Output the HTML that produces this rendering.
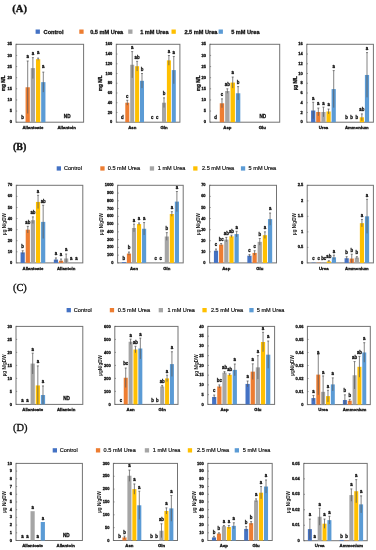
<!DOCTYPE html>
<html><head><meta charset="utf-8"><style>
html,body{margin:0;padding:0;background:#fff;width:376px;height:550px;overflow:hidden}
svg{display:block;will-change:transform}
text{font-family:"Liberation Sans",sans-serif;fill:#111}
text.b{stroke:#111;stroke-width:0.3px}
text.r{stroke:#111;stroke-width:0.2px}
text.lb{stroke:#111;stroke-width:0.28px}
text.yl{stroke:none}
text.serif{font-family:"Liberation Serif",serif;stroke:#111;stroke-width:0.35px}
</style></head><body>
<svg width="376" height="550" viewBox="0 0 376 550">
<rect width="376" height="550" fill="#fff"/>
<text class="serif" x="12.3" y="12.4" font-size="10.5" font-weight="bold">(A)</text>
<rect x="35.60" y="29.50" width="4.3" height="4.3" fill="#4472C4"/>
<text class="lb" transform="translate(43.60,33.70)" font-size="5.6" text-anchor="start" font-weight="bold">Control</text>
<rect x="79.30" y="29.50" width="4.3" height="4.3" fill="#ED7D31"/>
<text class="lb" transform="translate(90.20,33.70)" font-size="5.6" text-anchor="start" font-weight="bold">0.5 mM Urea</text>
<rect x="128.20" y="29.50" width="4.3" height="4.3" fill="#A5A5A5"/>
<text class="lb" transform="translate(140.20,33.70)" font-size="5.6" text-anchor="start" font-weight="bold">1 mM Urea</text>
<rect x="171.50" y="29.50" width="4.3" height="4.3" fill="#FFC000"/>
<text class="lb" transform="translate(184.40,33.70)" font-size="5.6" text-anchor="start" font-weight="bold">2.5 mM Urea</text>
<rect x="218.60" y="29.50" width="4.3" height="4.3" fill="#5B9BD5"/>
<text class="lb" transform="translate(231.20,33.70)" font-size="5.6" text-anchor="start" font-weight="bold">5 mM Urea</text>
<rect x="16" y="44.3" width="67.60" height="77.90" fill="none" stroke="#737373" stroke-width="1"/>
<line x1="16.00" y1="122.20" x2="17.20" y2="122.20" stroke="#5a5a5a" stroke-width="0.6"/>
<text class="b" transform="translate(12.00,123.30)" font-size="4.0" text-anchor="end" font-weight="bold">0</text>
<line x1="16.00" y1="111.07" x2="17.20" y2="111.07" stroke="#5a5a5a" stroke-width="0.6"/>
<text class="b" transform="translate(12.00,112.17)" font-size="4.0" text-anchor="end" font-weight="bold">5</text>
<line x1="16.00" y1="99.94" x2="17.20" y2="99.94" stroke="#5a5a5a" stroke-width="0.6"/>
<text class="b" transform="translate(12.00,101.04)" font-size="4.0" text-anchor="end" font-weight="bold">10</text>
<line x1="16.00" y1="88.81" x2="17.20" y2="88.81" stroke="#5a5a5a" stroke-width="0.6"/>
<text class="b" transform="translate(12.00,89.91)" font-size="4.0" text-anchor="end" font-weight="bold">15</text>
<line x1="16.00" y1="77.69" x2="17.20" y2="77.69" stroke="#5a5a5a" stroke-width="0.6"/>
<text class="b" transform="translate(12.00,78.79)" font-size="4.0" text-anchor="end" font-weight="bold">20</text>
<line x1="16.00" y1="66.56" x2="17.20" y2="66.56" stroke="#5a5a5a" stroke-width="0.6"/>
<text class="b" transform="translate(12.00,67.66)" font-size="4.0" text-anchor="end" font-weight="bold">25</text>
<line x1="16.00" y1="55.43" x2="17.20" y2="55.43" stroke="#5a5a5a" stroke-width="0.6"/>
<text class="b" transform="translate(12.00,56.53)" font-size="4.0" text-anchor="end" font-weight="bold">30</text>
<line x1="16.00" y1="44.30" x2="17.20" y2="44.30" stroke="#5a5a5a" stroke-width="0.6"/>
<text class="b" transform="translate(12.00,45.40)" font-size="4.0" text-anchor="end" font-weight="bold">35</text>
<text class="b" transform="translate(5.20,83.25) rotate(-90)" font-size="4.6" text-anchor="middle" font-weight="bold">mg N/L</text>
<text class="b" transform="translate(32.90,128.80)" font-size="4.3" text-anchor="middle" font-weight="bold">Allantoate</text>
<text class="b" transform="translate(22.49,119.40) scale(0.9,1)" font-size="4.8" text-anchor="middle" font-weight="bold">b</text>
<rect x="25.56" y="87.26" width="4.27" height="34.94" fill="#ED7D31"/>
<line x1="27.69" y1="60.99" x2="27.69" y2="113.52" stroke="#5a5a5a" stroke-width="0.75"/>
<line x1="26.69" y1="60.99" x2="28.69" y2="60.99" stroke="#5a5a5a" stroke-width="0.75"/>
<text class="b" transform="translate(27.69,58.39) scale(0.9,1)" font-size="4.8" text-anchor="middle" font-weight="bold">a</text>
<rect x="30.77" y="68.12" width="4.27" height="54.08" fill="#A5A5A5"/>
<line x1="32.90" y1="57.65" x2="32.90" y2="78.58" stroke="#5a5a5a" stroke-width="0.75"/>
<line x1="31.90" y1="57.65" x2="33.90" y2="57.65" stroke="#5a5a5a" stroke-width="0.75"/>
<text class="b" transform="translate(32.90,55.05) scale(0.9,1)" font-size="4.8" text-anchor="middle" font-weight="bold">a</text>
<rect x="35.97" y="59.21" width="4.27" height="62.99" fill="#FFC000"/>
<line x1="38.11" y1="58.10" x2="38.11" y2="60.33" stroke="#5a5a5a" stroke-width="0.75"/>
<line x1="37.11" y1="58.10" x2="39.11" y2="58.10" stroke="#5a5a5a" stroke-width="0.75"/>
<text class="b" transform="translate(38.11,54.30) scale(0.9,1)" font-size="4.8" text-anchor="middle" font-weight="bold">a</text>
<rect x="41.18" y="82.14" width="4.27" height="40.06" fill="#5B9BD5"/>
<line x1="43.31" y1="72.12" x2="43.31" y2="92.15" stroke="#5a5a5a" stroke-width="0.75"/>
<line x1="42.31" y1="72.12" x2="44.31" y2="72.12" stroke="#5a5a5a" stroke-width="0.75"/>
<text class="b" transform="translate(43.31,67.72) scale(0.9,1)" font-size="4.8" text-anchor="middle" font-weight="bold">a</text>
<text class="b" transform="translate(66.70,128.80)" font-size="4.3" text-anchor="middle" font-weight="bold">Allantoin</text>
<text class="b" transform="translate(67.20,118.20) scale(0.9,1)" font-size="5.2" text-anchor="middle" font-weight="bold">ND</text>
<rect x="116.3" y="44.3" width="63.60" height="77.90" fill="none" stroke="#737373" stroke-width="1"/>
<line x1="116.30" y1="122.20" x2="117.50" y2="122.20" stroke="#5a5a5a" stroke-width="0.6"/>
<text class="b" transform="translate(112.30,123.30)" font-size="4.0" text-anchor="end" font-weight="bold">0</text>
<line x1="116.30" y1="112.46" x2="117.50" y2="112.46" stroke="#5a5a5a" stroke-width="0.6"/>
<text class="b" transform="translate(112.30,113.56)" font-size="4.0" text-anchor="end" font-weight="bold">20</text>
<line x1="116.30" y1="102.72" x2="117.50" y2="102.72" stroke="#5a5a5a" stroke-width="0.6"/>
<text class="b" transform="translate(112.30,103.82)" font-size="4.0" text-anchor="end" font-weight="bold">40</text>
<line x1="116.30" y1="92.99" x2="117.50" y2="92.99" stroke="#5a5a5a" stroke-width="0.6"/>
<text class="b" transform="translate(112.30,94.09)" font-size="4.0" text-anchor="end" font-weight="bold">60</text>
<line x1="116.30" y1="83.25" x2="117.50" y2="83.25" stroke="#5a5a5a" stroke-width="0.6"/>
<text class="b" transform="translate(112.30,84.35)" font-size="4.0" text-anchor="end" font-weight="bold">80</text>
<line x1="116.30" y1="73.51" x2="117.50" y2="73.51" stroke="#5a5a5a" stroke-width="0.6"/>
<text class="b" transform="translate(112.30,74.61)" font-size="4.0" text-anchor="end" font-weight="bold">100</text>
<line x1="116.30" y1="63.77" x2="117.50" y2="63.77" stroke="#5a5a5a" stroke-width="0.6"/>
<text class="b" transform="translate(112.30,64.88)" font-size="4.0" text-anchor="end" font-weight="bold">120</text>
<line x1="116.30" y1="54.04" x2="117.50" y2="54.04" stroke="#5a5a5a" stroke-width="0.6"/>
<text class="b" transform="translate(112.30,55.14)" font-size="4.0" text-anchor="end" font-weight="bold">140</text>
<line x1="116.30" y1="44.30" x2="117.50" y2="44.30" stroke="#5a5a5a" stroke-width="0.6"/>
<text class="b" transform="translate(112.30,45.40)" font-size="4.0" text-anchor="end" font-weight="bold">160</text>
<text class="b" transform="translate(102.00,83.25) rotate(-90)" font-size="4.6" text-anchor="middle" font-weight="bold">mg N/L</text>
<text class="b" transform="translate(132.20,128.80)" font-size="4.3" text-anchor="middle" font-weight="bold">Asn</text>
<text class="b" transform="translate(122.41,119.40) scale(0.9,1)" font-size="4.8" text-anchor="middle" font-weight="bold">d</text>
<rect x="125.29" y="102.72" width="4.02" height="19.48" fill="#ED7D31"/>
<line x1="127.30" y1="100.29" x2="127.30" y2="105.16" stroke="#5a5a5a" stroke-width="0.75"/>
<line x1="126.30" y1="100.29" x2="128.30" y2="100.29" stroke="#5a5a5a" stroke-width="0.75"/>
<text class="b" transform="translate(127.30,97.69) scale(0.9,1)" font-size="4.8" text-anchor="middle" font-weight="bold">c</text>
<rect x="130.19" y="64.75" width="4.02" height="57.45" fill="#A5A5A5"/>
<line x1="132.20" y1="51.60" x2="132.20" y2="77.89" stroke="#5a5a5a" stroke-width="0.75"/>
<line x1="131.20" y1="51.60" x2="133.20" y2="51.60" stroke="#5a5a5a" stroke-width="0.75"/>
<text class="b" transform="translate(132.20,49.00) scale(0.9,1)" font-size="4.8" text-anchor="middle" font-weight="bold">a</text>
<rect x="135.09" y="66.21" width="4.02" height="55.99" fill="#FFC000"/>
<line x1="137.10" y1="61.34" x2="137.10" y2="71.08" stroke="#5a5a5a" stroke-width="0.75"/>
<line x1="136.10" y1="61.34" x2="138.10" y2="61.34" stroke="#5a5a5a" stroke-width="0.75"/>
<text class="b" transform="translate(137.10,58.74) scale(0.9,1)" font-size="4.8" text-anchor="middle" font-weight="bold">ab</text>
<rect x="139.99" y="80.82" width="4.02" height="41.38" fill="#5B9BD5"/>
<line x1="141.99" y1="73.51" x2="141.99" y2="88.12" stroke="#5a5a5a" stroke-width="0.75"/>
<line x1="140.99" y1="73.51" x2="142.99" y2="73.51" stroke="#5a5a5a" stroke-width="0.75"/>
<text class="b" transform="translate(141.99,70.91) scale(0.9,1)" font-size="4.8" text-anchor="middle" font-weight="bold">b</text>
<text class="b" transform="translate(164.00,128.80)" font-size="4.3" text-anchor="middle" font-weight="bold">Gln</text>
<text class="b" transform="translate(152.21,118.80) scale(0.9,1)" font-size="4.8" text-anchor="middle" font-weight="bold">c</text>
<text class="b" transform="translate(157.10,118.80) scale(0.9,1)" font-size="4.8" text-anchor="middle" font-weight="bold">c</text>
<rect x="161.99" y="102.72" width="4.02" height="19.48" fill="#A5A5A5"/>
<line x1="164.00" y1="97.86" x2="164.00" y2="107.59" stroke="#5a5a5a" stroke-width="0.75"/>
<line x1="163.00" y1="97.86" x2="165.00" y2="97.86" stroke="#5a5a5a" stroke-width="0.75"/>
<text class="b" transform="translate(164.00,95.26) scale(0.9,1)" font-size="4.8" text-anchor="middle" font-weight="bold">b</text>
<rect x="166.89" y="60.37" width="4.02" height="61.83" fill="#FFC000"/>
<line x1="168.90" y1="55.50" x2="168.90" y2="65.24" stroke="#5a5a5a" stroke-width="0.75"/>
<line x1="167.90" y1="55.50" x2="169.90" y2="55.50" stroke="#5a5a5a" stroke-width="0.75"/>
<text class="b" transform="translate(168.90,52.90) scale(0.9,1)" font-size="4.8" text-anchor="middle" font-weight="bold">a</text>
<rect x="171.79" y="70.10" width="4.02" height="52.10" fill="#5B9BD5"/>
<line x1="173.79" y1="56.47" x2="173.79" y2="83.74" stroke="#5a5a5a" stroke-width="0.75"/>
<line x1="172.79" y1="56.47" x2="174.79" y2="56.47" stroke="#5a5a5a" stroke-width="0.75"/>
<text class="b" transform="translate(173.79,53.87) scale(0.9,1)" font-size="4.8" text-anchor="middle" font-weight="bold">a</text>
<rect x="209.9" y="44.3" width="69.80" height="77.90" fill="none" stroke="#737373" stroke-width="1"/>
<line x1="209.90" y1="122.20" x2="211.10" y2="122.20" stroke="#5a5a5a" stroke-width="0.6"/>
<text class="b" transform="translate(205.90,123.30)" font-size="4.0" text-anchor="end" font-weight="bold">0</text>
<line x1="209.90" y1="111.07" x2="211.10" y2="111.07" stroke="#5a5a5a" stroke-width="0.6"/>
<text class="b" transform="translate(205.90,112.17)" font-size="4.0" text-anchor="end" font-weight="bold">5</text>
<line x1="209.90" y1="99.94" x2="211.10" y2="99.94" stroke="#5a5a5a" stroke-width="0.6"/>
<text class="b" transform="translate(205.90,101.04)" font-size="4.0" text-anchor="end" font-weight="bold">10</text>
<line x1="209.90" y1="88.81" x2="211.10" y2="88.81" stroke="#5a5a5a" stroke-width="0.6"/>
<text class="b" transform="translate(205.90,89.91)" font-size="4.0" text-anchor="end" font-weight="bold">15</text>
<line x1="209.90" y1="77.69" x2="211.10" y2="77.69" stroke="#5a5a5a" stroke-width="0.6"/>
<text class="b" transform="translate(205.90,78.79)" font-size="4.0" text-anchor="end" font-weight="bold">20</text>
<line x1="209.90" y1="66.56" x2="211.10" y2="66.56" stroke="#5a5a5a" stroke-width="0.6"/>
<text class="b" transform="translate(205.90,67.66)" font-size="4.0" text-anchor="end" font-weight="bold">25</text>
<line x1="209.90" y1="55.43" x2="211.10" y2="55.43" stroke="#5a5a5a" stroke-width="0.6"/>
<text class="b" transform="translate(205.90,56.53)" font-size="4.0" text-anchor="end" font-weight="bold">30</text>
<line x1="209.90" y1="44.30" x2="211.10" y2="44.30" stroke="#5a5a5a" stroke-width="0.6"/>
<text class="b" transform="translate(205.90,45.40)" font-size="4.0" text-anchor="end" font-weight="bold">35</text>
<text class="b" transform="translate(200.40,83.25) rotate(-90)" font-size="4.6" text-anchor="middle" font-weight="bold">mg N/L</text>
<text class="b" transform="translate(227.35,128.80)" font-size="4.3" text-anchor="middle" font-weight="bold">Asp</text>
<text class="b" transform="translate(215.60,119.40) scale(0.9,1)" font-size="4.8" text-anchor="middle" font-weight="bold">d</text>
<rect x="219.77" y="103.28" width="4.41" height="18.92" fill="#ED7D31"/>
<line x1="221.98" y1="98.83" x2="221.98" y2="107.73" stroke="#5a5a5a" stroke-width="0.75"/>
<line x1="220.98" y1="98.83" x2="222.98" y2="98.83" stroke="#5a5a5a" stroke-width="0.75"/>
<text class="b" transform="translate(221.98,96.23) scale(0.9,1)" font-size="4.8" text-anchor="middle" font-weight="bold">c</text>
<rect x="225.15" y="91.04" width="4.41" height="31.16" fill="#A5A5A5"/>
<line x1="227.35" y1="88.81" x2="227.35" y2="93.27" stroke="#5a5a5a" stroke-width="0.75"/>
<line x1="226.35" y1="88.81" x2="228.35" y2="88.81" stroke="#5a5a5a" stroke-width="0.75"/>
<text class="b" transform="translate(227.35,86.21) scale(0.9,1)" font-size="4.8" text-anchor="middle" font-weight="bold">ab</text>
<rect x="230.52" y="82.58" width="4.41" height="39.62" fill="#FFC000"/>
<line x1="232.72" y1="77.02" x2="232.72" y2="88.15" stroke="#5a5a5a" stroke-width="0.75"/>
<line x1="231.72" y1="77.02" x2="233.72" y2="77.02" stroke="#5a5a5a" stroke-width="0.75"/>
<text class="b" transform="translate(232.72,74.42) scale(0.9,1)" font-size="4.8" text-anchor="middle" font-weight="bold">a</text>
<rect x="235.90" y="93.27" width="4.41" height="28.93" fill="#5B9BD5"/>
<line x1="238.10" y1="86.59" x2="238.10" y2="99.94" stroke="#5a5a5a" stroke-width="0.75"/>
<line x1="237.10" y1="86.59" x2="239.10" y2="86.59" stroke="#5a5a5a" stroke-width="0.75"/>
<text class="b" transform="translate(238.10,83.99) scale(0.9,1)" font-size="4.8" text-anchor="middle" font-weight="bold">b</text>
<text class="b" transform="translate(262.25,128.80)" font-size="4.3" text-anchor="middle" font-weight="bold">Glu</text>
<text class="b" transform="translate(262.75,118.20) scale(0.9,1)" font-size="5.2" text-anchor="middle" font-weight="bold">ND</text>
<rect x="306.8" y="44.3" width="66.60" height="77.90" fill="none" stroke="#737373" stroke-width="1"/>
<line x1="306.80" y1="122.20" x2="308.00" y2="122.20" stroke="#5a5a5a" stroke-width="0.6"/>
<text class="b" transform="translate(302.80,123.30)" font-size="4.0" text-anchor="end" font-weight="bold">0</text>
<line x1="306.80" y1="112.46" x2="308.00" y2="112.46" stroke="#5a5a5a" stroke-width="0.6"/>
<text class="b" transform="translate(302.80,113.56)" font-size="4.0" text-anchor="end" font-weight="bold">2</text>
<line x1="306.80" y1="102.72" x2="308.00" y2="102.72" stroke="#5a5a5a" stroke-width="0.6"/>
<text class="b" transform="translate(302.80,103.82)" font-size="4.0" text-anchor="end" font-weight="bold">4</text>
<line x1="306.80" y1="92.99" x2="308.00" y2="92.99" stroke="#5a5a5a" stroke-width="0.6"/>
<text class="b" transform="translate(302.80,94.09)" font-size="4.0" text-anchor="end" font-weight="bold">6</text>
<line x1="306.80" y1="83.25" x2="308.00" y2="83.25" stroke="#5a5a5a" stroke-width="0.6"/>
<text class="b" transform="translate(302.80,84.35)" font-size="4.0" text-anchor="end" font-weight="bold">8</text>
<line x1="306.80" y1="73.51" x2="308.00" y2="73.51" stroke="#5a5a5a" stroke-width="0.6"/>
<text class="b" transform="translate(302.80,74.61)" font-size="4.0" text-anchor="end" font-weight="bold">10</text>
<line x1="306.80" y1="63.77" x2="308.00" y2="63.77" stroke="#5a5a5a" stroke-width="0.6"/>
<text class="b" transform="translate(302.80,64.88)" font-size="4.0" text-anchor="end" font-weight="bold">12</text>
<line x1="306.80" y1="54.04" x2="308.00" y2="54.04" stroke="#5a5a5a" stroke-width="0.6"/>
<text class="b" transform="translate(302.80,55.14)" font-size="4.0" text-anchor="end" font-weight="bold">14</text>
<line x1="306.80" y1="44.30" x2="308.00" y2="44.30" stroke="#5a5a5a" stroke-width="0.6"/>
<text class="b" transform="translate(302.80,45.40)" font-size="4.0" text-anchor="end" font-weight="bold">16</text>
<text class="b" transform="translate(297.40,83.25) rotate(-90)" font-size="4.6" text-anchor="middle" font-weight="bold">µg N/L</text>
<text class="b" transform="translate(323.45,128.80)" font-size="4.3" text-anchor="middle" font-weight="bold">Urea</text>
<rect x="311.09" y="110.52" width="4.21" height="11.69" fill="#4472C4"/>
<line x1="313.19" y1="102.24" x2="313.19" y2="118.79" stroke="#5a5a5a" stroke-width="0.75"/>
<line x1="312.19" y1="102.24" x2="314.19" y2="102.24" stroke="#5a5a5a" stroke-width="0.75"/>
<text class="b" transform="translate(313.19,99.64) scale(0.9,1)" font-size="4.8" text-anchor="middle" font-weight="bold">a</text>
<rect x="316.22" y="111.98" width="4.21" height="10.22" fill="#ED7D31"/>
<line x1="318.32" y1="108.08" x2="318.32" y2="115.87" stroke="#5a5a5a" stroke-width="0.75"/>
<line x1="317.32" y1="108.08" x2="319.32" y2="108.08" stroke="#5a5a5a" stroke-width="0.75"/>
<text class="b" transform="translate(318.32,105.48) scale(0.9,1)" font-size="4.8" text-anchor="middle" font-weight="bold">a</text>
<rect x="321.35" y="111.98" width="4.21" height="10.22" fill="#A5A5A5"/>
<line x1="323.45" y1="107.11" x2="323.45" y2="116.84" stroke="#5a5a5a" stroke-width="0.75"/>
<line x1="322.45" y1="107.11" x2="324.45" y2="107.11" stroke="#5a5a5a" stroke-width="0.75"/>
<text class="b" transform="translate(323.45,104.51) scale(0.9,1)" font-size="4.8" text-anchor="middle" font-weight="bold">a</text>
<rect x="326.48" y="111.49" width="4.21" height="10.71" fill="#FFC000"/>
<line x1="328.58" y1="109.05" x2="328.58" y2="113.92" stroke="#5a5a5a" stroke-width="0.75"/>
<line x1="327.58" y1="109.05" x2="329.58" y2="109.05" stroke="#5a5a5a" stroke-width="0.75"/>
<text class="b" transform="translate(328.58,106.45) scale(0.9,1)" font-size="4.8" text-anchor="middle" font-weight="bold">a</text>
<rect x="331.60" y="89.09" width="4.21" height="33.11" fill="#5B9BD5"/>
<line x1="333.71" y1="70.59" x2="333.71" y2="107.59" stroke="#5a5a5a" stroke-width="0.75"/>
<line x1="332.71" y1="70.59" x2="334.71" y2="70.59" stroke="#5a5a5a" stroke-width="0.75"/>
<text class="b" transform="translate(333.71,67.99) scale(0.9,1)" font-size="4.8" text-anchor="middle" font-weight="bold">a</text>
<text class="b" transform="translate(356.75,128.80)" font-size="4.3" text-anchor="middle" font-weight="bold">Ammonium</text>
<text class="b" transform="translate(346.49,119.40) scale(0.9,1)" font-size="4.8" text-anchor="middle" font-weight="bold">b</text>
<text class="b" transform="translate(351.62,119.40) scale(0.9,1)" font-size="4.8" text-anchor="middle" font-weight="bold">b</text>
<text class="b" transform="translate(356.75,119.40) scale(0.9,1)" font-size="4.8" text-anchor="middle" font-weight="bold">b</text>
<rect x="359.78" y="117.33" width="4.21" height="4.87" fill="#FFC000"/>
<line x1="361.88" y1="113.92" x2="361.88" y2="120.74" stroke="#5a5a5a" stroke-width="0.75"/>
<line x1="360.88" y1="113.92" x2="362.88" y2="113.92" stroke="#5a5a5a" stroke-width="0.75"/>
<text class="b" transform="translate(361.88,111.32) scale(0.9,1)" font-size="4.8" text-anchor="middle" font-weight="bold">ab</text>
<rect x="364.90" y="74.97" width="4.21" height="47.23" fill="#5B9BD5"/>
<line x1="367.01" y1="52.58" x2="367.01" y2="97.37" stroke="#5a5a5a" stroke-width="0.75"/>
<line x1="366.01" y1="52.58" x2="368.01" y2="52.58" stroke="#5a5a5a" stroke-width="0.75"/>
<text class="b" transform="translate(367.01,49.98) scale(0.9,1)" font-size="4.8" text-anchor="middle" font-weight="bold">a</text>
<text class="serif" x="13.0" y="149.6" font-size="10" font-weight="bold">(B)</text>
<rect x="56.70" y="166.30" width="4.3" height="4.3" fill="#4472C4"/>
<text class="r" transform="translate(64.00,170.40) scale(0.93,1)" font-size="6.0" text-anchor="start" font-weight="normal">Control</text>
<rect x="100.30" y="166.30" width="4.3" height="4.3" fill="#ED7D31"/>
<text class="r" transform="translate(107.80,170.40) scale(0.93,1)" font-size="6.0" text-anchor="start" font-weight="normal">0.5 mM Urea</text>
<rect x="149.80" y="166.30" width="4.3" height="4.3" fill="#A5A5A5"/>
<text class="r" transform="translate(157.80,170.40) scale(0.93,1)" font-size="6.0" text-anchor="start" font-weight="normal">1 mM Urea</text>
<rect x="193.20" y="166.30" width="4.3" height="4.3" fill="#FFC000"/>
<text class="r" transform="translate(202.00,170.40) scale(0.93,1)" font-size="6.0" text-anchor="start" font-weight="normal">2.5 mM Urea</text>
<rect x="240.90" y="166.30" width="4.3" height="4.3" fill="#5B9BD5"/>
<text class="r" transform="translate(248.60,170.40) scale(0.93,1)" font-size="6.0" text-anchor="start" font-weight="normal">5 mM Urea</text>
<rect x="16.3" y="185.3" width="66.50" height="77.60" fill="none" stroke="#737373" stroke-width="1"/>
<line x1="16.30" y1="262.90" x2="17.50" y2="262.90" stroke="#5a5a5a" stroke-width="0.6"/>
<text class="b" transform="translate(12.30,264.00)" font-size="4.0" text-anchor="end" font-weight="bold">0</text>
<line x1="16.30" y1="251.81" x2="17.50" y2="251.81" stroke="#5a5a5a" stroke-width="0.6"/>
<text class="b" transform="translate(12.30,252.91)" font-size="4.0" text-anchor="end" font-weight="bold">10</text>
<line x1="16.30" y1="240.73" x2="17.50" y2="240.73" stroke="#5a5a5a" stroke-width="0.6"/>
<text class="b" transform="translate(12.30,241.83)" font-size="4.0" text-anchor="end" font-weight="bold">20</text>
<line x1="16.30" y1="229.64" x2="17.50" y2="229.64" stroke="#5a5a5a" stroke-width="0.6"/>
<text class="b" transform="translate(12.30,230.74)" font-size="4.0" text-anchor="end" font-weight="bold">30</text>
<line x1="16.30" y1="218.56" x2="17.50" y2="218.56" stroke="#5a5a5a" stroke-width="0.6"/>
<text class="b" transform="translate(12.30,219.66)" font-size="4.0" text-anchor="end" font-weight="bold">40</text>
<line x1="16.30" y1="207.47" x2="17.50" y2="207.47" stroke="#5a5a5a" stroke-width="0.6"/>
<text class="b" transform="translate(12.30,208.57)" font-size="4.0" text-anchor="end" font-weight="bold">50</text>
<line x1="16.30" y1="196.39" x2="17.50" y2="196.39" stroke="#5a5a5a" stroke-width="0.6"/>
<text class="b" transform="translate(12.30,197.49)" font-size="4.0" text-anchor="end" font-weight="bold">60</text>
<line x1="16.30" y1="185.30" x2="17.50" y2="185.30" stroke="#5a5a5a" stroke-width="0.6"/>
<text class="b" transform="translate(12.30,186.40)" font-size="4.0" text-anchor="end" font-weight="bold">70</text>
<text class="yl" transform="translate(6.30,224.10) rotate(-90)" font-size="4.6" text-anchor="middle" font-weight="bold">µg N/gDW</text>
<text class="b" transform="translate(32.92,269.50)" font-size="4.3" text-anchor="middle" font-weight="bold">Allantoate</text>
<rect x="20.58" y="252.37" width="4.20" height="10.53" fill="#4472C4"/>
<line x1="22.68" y1="250.71" x2="22.68" y2="254.03" stroke="#5a5a5a" stroke-width="0.75"/>
<line x1="21.68" y1="250.71" x2="23.68" y2="250.71" stroke="#5a5a5a" stroke-width="0.75"/>
<text class="b" transform="translate(22.68,248.11) scale(0.9,1)" font-size="4.8" text-anchor="middle" font-weight="bold">b</text>
<rect x="25.71" y="229.64" width="4.20" height="33.26" fill="#ED7D31"/>
<line x1="27.80" y1="226.32" x2="27.80" y2="232.97" stroke="#5a5a5a" stroke-width="0.75"/>
<line x1="26.80" y1="226.32" x2="28.80" y2="226.32" stroke="#5a5a5a" stroke-width="0.75"/>
<text class="b" transform="translate(27.80,223.72) scale(0.9,1)" font-size="4.8" text-anchor="middle" font-weight="bold">ab</text>
<rect x="30.83" y="220.22" width="4.20" height="42.68" fill="#A5A5A5"/>
<line x1="32.92" y1="216.89" x2="32.92" y2="223.55" stroke="#5a5a5a" stroke-width="0.75"/>
<line x1="31.92" y1="216.89" x2="33.92" y2="216.89" stroke="#5a5a5a" stroke-width="0.75"/>
<text class="b" transform="translate(32.92,214.29) scale(0.9,1)" font-size="4.8" text-anchor="middle" font-weight="bold">ab</text>
<rect x="35.95" y="201.93" width="4.20" height="60.97" fill="#FFC000"/>
<line x1="38.05" y1="195.28" x2="38.05" y2="208.58" stroke="#5a5a5a" stroke-width="0.75"/>
<line x1="37.05" y1="195.28" x2="39.05" y2="195.28" stroke="#5a5a5a" stroke-width="0.75"/>
<text class="b" transform="translate(38.05,192.68) scale(0.9,1)" font-size="4.8" text-anchor="middle" font-weight="bold">a</text>
<rect x="41.07" y="221.88" width="4.20" height="41.02" fill="#5B9BD5"/>
<line x1="43.17" y1="205.25" x2="43.17" y2="238.51" stroke="#5a5a5a" stroke-width="0.75"/>
<line x1="42.17" y1="205.25" x2="44.17" y2="205.25" stroke="#5a5a5a" stroke-width="0.75"/>
<text class="b" transform="translate(43.17,202.65) scale(0.9,1)" font-size="4.8" text-anchor="middle" font-weight="bold">ab</text>
<text class="b" transform="translate(66.17,269.50)" font-size="4.3" text-anchor="middle" font-weight="bold">Allantoin</text>
<rect x="53.83" y="259.57" width="4.20" height="3.33" fill="#4472C4"/>
<line x1="55.93" y1="257.91" x2="55.93" y2="261.24" stroke="#5a5a5a" stroke-width="0.75"/>
<line x1="54.93" y1="257.91" x2="56.93" y2="257.91" stroke="#5a5a5a" stroke-width="0.75"/>
<text class="b" transform="translate(55.93,255.31) scale(0.9,1)" font-size="4.8" text-anchor="middle" font-weight="bold">a</text>
<rect x="58.96" y="260.68" width="4.20" height="2.22" fill="#ED7D31"/>
<line x1="61.05" y1="259.02" x2="61.05" y2="262.35" stroke="#5a5a5a" stroke-width="0.75"/>
<line x1="60.05" y1="259.02" x2="62.05" y2="259.02" stroke="#5a5a5a" stroke-width="0.75"/>
<text class="b" transform="translate(61.05,256.42) scale(0.9,1)" font-size="4.8" text-anchor="middle" font-weight="bold">a</text>
<rect x="64.08" y="258.47" width="4.20" height="4.43" fill="#A5A5A5"/>
<line x1="66.17" y1="254.03" x2="66.17" y2="262.90" stroke="#5a5a5a" stroke-width="0.75"/>
<line x1="65.17" y1="254.03" x2="67.17" y2="254.03" stroke="#5a5a5a" stroke-width="0.75"/>
<text class="b" transform="translate(66.17,251.43) scale(0.9,1)" font-size="4.8" text-anchor="middle" font-weight="bold">a</text>
<text class="b" transform="translate(71.30,260.10) scale(0.9,1)" font-size="4.8" text-anchor="middle" font-weight="bold">a</text>
<text class="b" transform="translate(76.42,260.10) scale(0.9,1)" font-size="4.8" text-anchor="middle" font-weight="bold">a</text>
<rect x="117.6" y="185.3" width="65.60" height="77.60" fill="none" stroke="#737373" stroke-width="1"/>
<line x1="117.60" y1="262.90" x2="118.80" y2="262.90" stroke="#5a5a5a" stroke-width="0.6"/>
<text class="b" transform="translate(113.60,264.00)" font-size="4.0" text-anchor="end" font-weight="bold">0</text>
<line x1="117.60" y1="255.14" x2="118.80" y2="255.14" stroke="#5a5a5a" stroke-width="0.6"/>
<text class="b" transform="translate(113.60,256.24)" font-size="4.0" text-anchor="end" font-weight="bold">100</text>
<line x1="117.60" y1="247.38" x2="118.80" y2="247.38" stroke="#5a5a5a" stroke-width="0.6"/>
<text class="b" transform="translate(113.60,248.48)" font-size="4.0" text-anchor="end" font-weight="bold">200</text>
<line x1="117.60" y1="239.62" x2="118.80" y2="239.62" stroke="#5a5a5a" stroke-width="0.6"/>
<text class="b" transform="translate(113.60,240.72)" font-size="4.0" text-anchor="end" font-weight="bold">300</text>
<line x1="117.60" y1="231.86" x2="118.80" y2="231.86" stroke="#5a5a5a" stroke-width="0.6"/>
<text class="b" transform="translate(113.60,232.96)" font-size="4.0" text-anchor="end" font-weight="bold">400</text>
<line x1="117.60" y1="224.10" x2="118.80" y2="224.10" stroke="#5a5a5a" stroke-width="0.6"/>
<text class="b" transform="translate(113.60,225.20)" font-size="4.0" text-anchor="end" font-weight="bold">500</text>
<line x1="117.60" y1="216.34" x2="118.80" y2="216.34" stroke="#5a5a5a" stroke-width="0.6"/>
<text class="b" transform="translate(113.60,217.44)" font-size="4.0" text-anchor="end" font-weight="bold">600</text>
<line x1="117.60" y1="208.58" x2="118.80" y2="208.58" stroke="#5a5a5a" stroke-width="0.6"/>
<text class="b" transform="translate(113.60,209.68)" font-size="4.0" text-anchor="end" font-weight="bold">700</text>
<line x1="117.60" y1="200.82" x2="118.80" y2="200.82" stroke="#5a5a5a" stroke-width="0.6"/>
<text class="b" transform="translate(113.60,201.92)" font-size="4.0" text-anchor="end" font-weight="bold">800</text>
<line x1="117.60" y1="193.06" x2="118.80" y2="193.06" stroke="#5a5a5a" stroke-width="0.6"/>
<text class="b" transform="translate(113.60,194.16)" font-size="4.0" text-anchor="end" font-weight="bold">900</text>
<line x1="117.60" y1="185.30" x2="118.80" y2="185.30" stroke="#5a5a5a" stroke-width="0.6"/>
<text class="b" transform="translate(113.60,186.40)" font-size="4.0" text-anchor="end" font-weight="bold">1000</text>
<text class="yl" transform="translate(103.10,224.10) rotate(-90)" font-size="4.6" text-anchor="middle" font-weight="bold">µg N/gDW</text>
<text class="b" transform="translate(134.00,269.50)" font-size="4.3" text-anchor="middle" font-weight="bold">Asn</text>
<rect x="121.83" y="262.12" width="4.14" height="0.78" fill="#4472C4"/>
<text class="b" transform="translate(123.90,259.72) scale(0.9,1)" font-size="4.8" text-anchor="middle" font-weight="bold">b</text>
<rect x="126.88" y="253.59" width="4.14" height="9.31" fill="#ED7D31"/>
<line x1="128.95" y1="252.04" x2="128.95" y2="255.14" stroke="#5a5a5a" stroke-width="0.75"/>
<line x1="127.95" y1="252.04" x2="129.95" y2="252.04" stroke="#5a5a5a" stroke-width="0.75"/>
<text class="b" transform="translate(128.95,249.44) scale(0.9,1)" font-size="4.8" text-anchor="middle" font-weight="bold">b</text>
<rect x="131.93" y="227.98" width="4.14" height="34.92" fill="#A5A5A5"/>
<line x1="134.00" y1="224.10" x2="134.00" y2="231.86" stroke="#5a5a5a" stroke-width="0.75"/>
<line x1="133.00" y1="224.10" x2="135.00" y2="224.10" stroke="#5a5a5a" stroke-width="0.75"/>
<text class="b" transform="translate(134.00,221.50) scale(0.9,1)" font-size="4.8" text-anchor="middle" font-weight="bold">a</text>
<rect x="136.98" y="224.10" width="4.14" height="38.80" fill="#FFC000"/>
<line x1="139.05" y1="222.94" x2="139.05" y2="225.26" stroke="#5a5a5a" stroke-width="0.75"/>
<line x1="138.05" y1="222.94" x2="140.05" y2="222.94" stroke="#5a5a5a" stroke-width="0.75"/>
<text class="b" transform="translate(139.05,220.34) scale(0.9,1)" font-size="4.8" text-anchor="middle" font-weight="bold">a</text>
<rect x="142.03" y="228.76" width="4.14" height="34.14" fill="#5B9BD5"/>
<line x1="144.10" y1="222.55" x2="144.10" y2="234.96" stroke="#5a5a5a" stroke-width="0.75"/>
<line x1="143.10" y1="222.55" x2="145.10" y2="222.55" stroke="#5a5a5a" stroke-width="0.75"/>
<text class="b" transform="translate(144.10,219.95) scale(0.9,1)" font-size="4.8" text-anchor="middle" font-weight="bold">a</text>
<text class="b" transform="translate(166.80,269.50)" font-size="4.3" text-anchor="middle" font-weight="bold">Gln</text>
<text class="b" transform="translate(155.70,260.10) scale(0.9,1)" font-size="4.8" text-anchor="middle" font-weight="bold">c</text>
<text class="b" transform="translate(160.75,260.10) scale(0.9,1)" font-size="4.8" text-anchor="middle" font-weight="bold">c</text>
<rect x="164.73" y="236.52" width="4.14" height="26.38" fill="#A5A5A5"/>
<line x1="166.80" y1="232.64" x2="166.80" y2="240.40" stroke="#5a5a5a" stroke-width="0.75"/>
<line x1="165.80" y1="232.64" x2="167.80" y2="232.64" stroke="#5a5a5a" stroke-width="0.75"/>
<text class="b" transform="translate(166.80,230.04) scale(0.9,1)" font-size="4.8" text-anchor="middle" font-weight="bold">b</text>
<rect x="169.78" y="214.01" width="4.14" height="48.89" fill="#FFC000"/>
<line x1="171.85" y1="211.68" x2="171.85" y2="216.34" stroke="#5a5a5a" stroke-width="0.75"/>
<line x1="170.85" y1="211.68" x2="172.85" y2="211.68" stroke="#5a5a5a" stroke-width="0.75"/>
<text class="b" transform="translate(171.85,209.08) scale(0.9,1)" font-size="4.8" text-anchor="middle" font-weight="bold">a</text>
<rect x="174.83" y="201.60" width="4.14" height="61.30" fill="#5B9BD5"/>
<line x1="176.90" y1="191.51" x2="176.90" y2="211.68" stroke="#5a5a5a" stroke-width="0.75"/>
<line x1="175.90" y1="191.51" x2="177.90" y2="191.51" stroke="#5a5a5a" stroke-width="0.75"/>
<text class="b" transform="translate(176.90,188.91) scale(0.9,1)" font-size="4.8" text-anchor="middle" font-weight="bold">a</text>
<rect x="209.6" y="185.3" width="66.90" height="77.60" fill="none" stroke="#737373" stroke-width="1"/>
<line x1="209.60" y1="262.90" x2="210.80" y2="262.90" stroke="#5a5a5a" stroke-width="0.6"/>
<text class="b" transform="translate(205.60,264.00)" font-size="4.0" text-anchor="end" font-weight="bold">0</text>
<line x1="209.60" y1="251.81" x2="210.80" y2="251.81" stroke="#5a5a5a" stroke-width="0.6"/>
<text class="b" transform="translate(205.60,252.91)" font-size="4.0" text-anchor="end" font-weight="bold">10</text>
<line x1="209.60" y1="240.73" x2="210.80" y2="240.73" stroke="#5a5a5a" stroke-width="0.6"/>
<text class="b" transform="translate(205.60,241.83)" font-size="4.0" text-anchor="end" font-weight="bold">20</text>
<line x1="209.60" y1="229.64" x2="210.80" y2="229.64" stroke="#5a5a5a" stroke-width="0.6"/>
<text class="b" transform="translate(205.60,230.74)" font-size="4.0" text-anchor="end" font-weight="bold">30</text>
<line x1="209.60" y1="218.56" x2="210.80" y2="218.56" stroke="#5a5a5a" stroke-width="0.6"/>
<text class="b" transform="translate(205.60,219.66)" font-size="4.0" text-anchor="end" font-weight="bold">40</text>
<line x1="209.60" y1="207.47" x2="210.80" y2="207.47" stroke="#5a5a5a" stroke-width="0.6"/>
<text class="b" transform="translate(205.60,208.57)" font-size="4.0" text-anchor="end" font-weight="bold">50</text>
<line x1="209.60" y1="196.39" x2="210.80" y2="196.39" stroke="#5a5a5a" stroke-width="0.6"/>
<text class="b" transform="translate(205.60,197.49)" font-size="4.0" text-anchor="end" font-weight="bold">60</text>
<line x1="209.60" y1="185.30" x2="210.80" y2="185.30" stroke="#5a5a5a" stroke-width="0.6"/>
<text class="b" transform="translate(205.60,186.40)" font-size="4.0" text-anchor="end" font-weight="bold">70</text>
<text class="yl" transform="translate(199.90,224.10) rotate(-90)" font-size="4.6" text-anchor="middle" font-weight="bold">µg N/gDW</text>
<text class="b" transform="translate(226.32,269.50)" font-size="4.3" text-anchor="middle" font-weight="bold">Asp</text>
<rect x="213.91" y="250.71" width="4.22" height="12.19" fill="#4472C4"/>
<line x1="216.02" y1="249.04" x2="216.02" y2="252.37" stroke="#5a5a5a" stroke-width="0.75"/>
<line x1="215.02" y1="249.04" x2="217.02" y2="249.04" stroke="#5a5a5a" stroke-width="0.75"/>
<text class="b" transform="translate(216.02,246.44) scale(0.9,1)" font-size="4.8" text-anchor="middle" font-weight="bold">c</text>
<rect x="219.06" y="244.61" width="4.22" height="18.29" fill="#ED7D31"/>
<line x1="221.17" y1="243.50" x2="221.17" y2="245.72" stroke="#5a5a5a" stroke-width="0.75"/>
<line x1="220.17" y1="243.50" x2="222.17" y2="243.50" stroke="#5a5a5a" stroke-width="0.75"/>
<text class="b" transform="translate(221.17,240.90) scale(0.9,1)" font-size="4.8" text-anchor="middle" font-weight="bold">bc</text>
<rect x="224.21" y="239.62" width="4.22" height="23.28" fill="#A5A5A5"/>
<line x1="226.32" y1="237.40" x2="226.32" y2="241.84" stroke="#5a5a5a" stroke-width="0.75"/>
<line x1="225.32" y1="237.40" x2="227.32" y2="237.40" stroke="#5a5a5a" stroke-width="0.75"/>
<text class="b" transform="translate(226.32,234.80) scale(0.9,1)" font-size="4.8" text-anchor="middle" font-weight="bold">ab</text>
<rect x="229.36" y="236.29" width="4.22" height="26.61" fill="#FFC000"/>
<line x1="231.48" y1="235.19" x2="231.48" y2="237.40" stroke="#5a5a5a" stroke-width="0.75"/>
<line x1="230.48" y1="235.19" x2="232.48" y2="235.19" stroke="#5a5a5a" stroke-width="0.75"/>
<text class="b" transform="translate(231.48,232.59) scale(0.9,1)" font-size="4.8" text-anchor="middle" font-weight="bold">ab</text>
<rect x="234.52" y="234.08" width="4.22" height="28.82" fill="#5B9BD5"/>
<line x1="236.63" y1="231.31" x2="236.63" y2="236.85" stroke="#5a5a5a" stroke-width="0.75"/>
<line x1="235.63" y1="231.31" x2="237.63" y2="231.31" stroke="#5a5a5a" stroke-width="0.75"/>
<text class="b" transform="translate(236.63,228.71) scale(0.9,1)" font-size="4.8" text-anchor="middle" font-weight="bold">a</text>
<text class="b" transform="translate(259.77,269.50)" font-size="4.3" text-anchor="middle" font-weight="bold">Glu</text>
<rect x="247.36" y="255.69" width="4.22" height="7.21" fill="#4472C4"/>
<line x1="249.47" y1="254.59" x2="249.47" y2="256.80" stroke="#5a5a5a" stroke-width="0.75"/>
<line x1="248.47" y1="254.59" x2="250.47" y2="254.59" stroke="#5a5a5a" stroke-width="0.75"/>
<text class="b" transform="translate(249.47,251.99) scale(0.9,1)" font-size="4.8" text-anchor="middle" font-weight="bold">c</text>
<rect x="252.51" y="252.92" width="4.22" height="9.98" fill="#ED7D31"/>
<line x1="254.62" y1="250.71" x2="254.62" y2="255.14" stroke="#5a5a5a" stroke-width="0.75"/>
<line x1="253.62" y1="250.71" x2="255.62" y2="250.71" stroke="#5a5a5a" stroke-width="0.75"/>
<text class="b" transform="translate(254.62,248.11) scale(0.9,1)" font-size="4.8" text-anchor="middle" font-weight="bold">c</text>
<rect x="257.66" y="241.84" width="4.22" height="21.06" fill="#A5A5A5"/>
<line x1="259.77" y1="238.51" x2="259.77" y2="245.16" stroke="#5a5a5a" stroke-width="0.75"/>
<line x1="258.77" y1="238.51" x2="260.77" y2="238.51" stroke="#5a5a5a" stroke-width="0.75"/>
<text class="b" transform="translate(259.77,235.91) scale(0.9,1)" font-size="4.8" text-anchor="middle" font-weight="bold">b</text>
<rect x="262.81" y="235.19" width="4.22" height="27.71" fill="#FFC000"/>
<line x1="264.93" y1="231.86" x2="264.93" y2="238.51" stroke="#5a5a5a" stroke-width="0.75"/>
<line x1="263.93" y1="231.86" x2="265.93" y2="231.86" stroke="#5a5a5a" stroke-width="0.75"/>
<text class="b" transform="translate(264.93,229.26) scale(0.9,1)" font-size="4.8" text-anchor="middle" font-weight="bold">a</text>
<rect x="267.97" y="219.11" width="4.22" height="43.79" fill="#5B9BD5"/>
<line x1="270.08" y1="213.01" x2="270.08" y2="225.21" stroke="#5a5a5a" stroke-width="0.75"/>
<line x1="269.08" y1="213.01" x2="271.08" y2="213.01" stroke="#5a5a5a" stroke-width="0.75"/>
<text class="b" transform="translate(270.08,210.41) scale(0.9,1)" font-size="4.8" text-anchor="middle" font-weight="bold">a</text>
<rect x="307.2" y="185.3" width="66.20" height="77.60" fill="none" stroke="#737373" stroke-width="1"/>
<line x1="307.20" y1="262.90" x2="308.40" y2="262.90" stroke="#5a5a5a" stroke-width="0.6"/>
<text class="b" transform="translate(303.20,264.00)" font-size="4.0" text-anchor="end" font-weight="bold">0</text>
<line x1="307.20" y1="247.38" x2="308.40" y2="247.38" stroke="#5a5a5a" stroke-width="0.6"/>
<text class="b" transform="translate(303.20,248.48)" font-size="4.0" text-anchor="end" font-weight="bold">0.5</text>
<line x1="307.20" y1="231.86" x2="308.40" y2="231.86" stroke="#5a5a5a" stroke-width="0.6"/>
<text class="b" transform="translate(303.20,232.96)" font-size="4.0" text-anchor="end" font-weight="bold">1</text>
<line x1="307.20" y1="216.34" x2="308.40" y2="216.34" stroke="#5a5a5a" stroke-width="0.6"/>
<text class="b" transform="translate(303.20,217.44)" font-size="4.0" text-anchor="end" font-weight="bold">1.5</text>
<line x1="307.20" y1="200.82" x2="308.40" y2="200.82" stroke="#5a5a5a" stroke-width="0.6"/>
<text class="b" transform="translate(303.20,201.92)" font-size="4.0" text-anchor="end" font-weight="bold">2</text>
<line x1="307.20" y1="185.30" x2="308.40" y2="185.30" stroke="#5a5a5a" stroke-width="0.6"/>
<text class="b" transform="translate(303.20,186.40)" font-size="4.0" text-anchor="end" font-weight="bold">2.5</text>
<text class="yl" transform="translate(295.90,224.10) rotate(-90)" font-size="4.6" text-anchor="middle" font-weight="bold">µg N/gDW</text>
<text class="b" transform="translate(323.75,269.50)" font-size="4.3" text-anchor="middle" font-weight="bold">Urea</text>
<rect x="311.47" y="262.59" width="4.18" height="0.31" fill="#4472C4"/>
<text class="b" transform="translate(313.56,260.19) scale(0.9,1)" font-size="4.8" text-anchor="middle" font-weight="bold">c</text>
<rect x="316.56" y="262.59" width="4.18" height="0.31" fill="#ED7D31"/>
<text class="b" transform="translate(318.65,260.19) scale(0.9,1)" font-size="4.8" text-anchor="middle" font-weight="bold">c</text>
<rect x="321.66" y="262.59" width="4.18" height="0.31" fill="#A5A5A5"/>
<text class="b" transform="translate(323.75,260.19) scale(0.9,1)" font-size="4.8" text-anchor="middle" font-weight="bold">bc</text>
<rect x="326.76" y="261.35" width="4.18" height="1.55" fill="#FFC000"/>
<line x1="328.85" y1="260.73" x2="328.85" y2="261.97" stroke="#5a5a5a" stroke-width="0.75"/>
<line x1="327.85" y1="260.73" x2="329.85" y2="260.73" stroke="#5a5a5a" stroke-width="0.75"/>
<text class="b" transform="translate(328.85,258.13) scale(0.9,1)" font-size="4.8" text-anchor="middle" font-weight="bold">ab</text>
<rect x="331.85" y="257.31" width="4.18" height="5.59" fill="#5B9BD5"/>
<line x1="333.94" y1="255.14" x2="333.94" y2="259.49" stroke="#5a5a5a" stroke-width="0.75"/>
<line x1="332.94" y1="255.14" x2="334.94" y2="255.14" stroke="#5a5a5a" stroke-width="0.75"/>
<text class="b" transform="translate(333.94,252.54) scale(0.9,1)" font-size="4.8" text-anchor="middle" font-weight="bold">a</text>
<text class="b" transform="translate(356.85,269.50)" font-size="4.3" text-anchor="middle" font-weight="bold">Ammonium</text>
<rect x="344.57" y="258.24" width="4.18" height="4.66" fill="#4472C4"/>
<line x1="346.66" y1="256.69" x2="346.66" y2="259.80" stroke="#5a5a5a" stroke-width="0.75"/>
<line x1="345.66" y1="256.69" x2="347.66" y2="256.69" stroke="#5a5a5a" stroke-width="0.75"/>
<text class="b" transform="translate(346.66,254.09) scale(0.9,1)" font-size="4.8" text-anchor="middle" font-weight="bold">b</text>
<rect x="349.66" y="258.55" width="4.18" height="4.35" fill="#ED7D31"/>
<line x1="351.75" y1="254.21" x2="351.75" y2="262.90" stroke="#5a5a5a" stroke-width="0.75"/>
<line x1="350.75" y1="254.21" x2="352.75" y2="254.21" stroke="#5a5a5a" stroke-width="0.75"/>
<text class="b" transform="translate(351.75,251.61) scale(0.9,1)" font-size="4.8" text-anchor="middle" font-weight="bold">b</text>
<rect x="354.76" y="257.62" width="4.18" height="5.28" fill="#A5A5A5"/>
<line x1="356.85" y1="256.69" x2="356.85" y2="258.55" stroke="#5a5a5a" stroke-width="0.75"/>
<line x1="355.85" y1="256.69" x2="357.85" y2="256.69" stroke="#5a5a5a" stroke-width="0.75"/>
<text class="b" transform="translate(356.85,254.09) scale(0.9,1)" font-size="4.8" text-anchor="middle" font-weight="bold">b</text>
<rect x="359.86" y="223.17" width="4.18" height="39.73" fill="#FFC000"/>
<line x1="361.95" y1="219.44" x2="361.95" y2="226.89" stroke="#5a5a5a" stroke-width="0.75"/>
<line x1="360.95" y1="219.44" x2="362.95" y2="219.44" stroke="#5a5a5a" stroke-width="0.75"/>
<text class="b" transform="translate(361.95,216.84) scale(0.9,1)" font-size="4.8" text-anchor="middle" font-weight="bold">a</text>
<rect x="364.95" y="216.34" width="4.18" height="46.56" fill="#5B9BD5"/>
<line x1="367.04" y1="199.27" x2="367.04" y2="233.41" stroke="#5a5a5a" stroke-width="0.75"/>
<line x1="366.04" y1="199.27" x2="368.04" y2="199.27" stroke="#5a5a5a" stroke-width="0.75"/>
<text class="b" transform="translate(367.04,196.67) scale(0.9,1)" font-size="4.8" text-anchor="middle" font-weight="bold">a</text>
<text class="serif" x="13.0" y="290.6" font-size="10.3" font-weight="normal">(C)</text>
<rect x="66.60" y="308.00" width="4.3" height="4.3" fill="#4472C4"/>
<text class="r" transform="translate(73.80,312.10) scale(0.93,1)" font-size="6.0" text-anchor="start" font-weight="normal">Control</text>
<rect x="109.80" y="308.00" width="4.3" height="4.3" fill="#ED7D31"/>
<text class="r" transform="translate(117.80,312.10) scale(0.93,1)" font-size="6.0" text-anchor="start" font-weight="normal">0.5 mM Urea</text>
<rect x="158.70" y="308.00" width="4.3" height="4.3" fill="#A5A5A5"/>
<text class="r" transform="translate(167.40,312.10) scale(0.93,1)" font-size="6.0" text-anchor="start" font-weight="normal">1 mM Urea</text>
<rect x="202.40" y="308.00" width="4.3" height="4.3" fill="#FFC000"/>
<text class="r" transform="translate(210.90,312.10) scale(0.93,1)" font-size="6.0" text-anchor="start" font-weight="normal">2.5 mM Urea</text>
<rect x="249.30" y="308.00" width="4.3" height="4.3" fill="#5B9BD5"/>
<text class="r" transform="translate(256.80,312.10) scale(0.93,1)" font-size="6.0" text-anchor="start" font-weight="normal">5 mM Urea</text>
<rect x="16" y="326.4" width="66.80" height="78.00" fill="none" stroke="#737373" stroke-width="1"/>
<line x1="16.00" y1="404.40" x2="17.20" y2="404.40" stroke="#5a5a5a" stroke-width="0.6"/>
<text class="b" transform="translate(12.00,405.50)" font-size="4.0" text-anchor="end" font-weight="bold">0</text>
<line x1="16.00" y1="391.40" x2="17.20" y2="391.40" stroke="#5a5a5a" stroke-width="0.6"/>
<text class="b" transform="translate(12.00,392.50)" font-size="4.0" text-anchor="end" font-weight="bold">5</text>
<line x1="16.00" y1="378.40" x2="17.20" y2="378.40" stroke="#5a5a5a" stroke-width="0.6"/>
<text class="b" transform="translate(12.00,379.50)" font-size="4.0" text-anchor="end" font-weight="bold">10</text>
<line x1="16.00" y1="365.40" x2="17.20" y2="365.40" stroke="#5a5a5a" stroke-width="0.6"/>
<text class="b" transform="translate(12.00,366.50)" font-size="4.0" text-anchor="end" font-weight="bold">15</text>
<line x1="16.00" y1="352.40" x2="17.20" y2="352.40" stroke="#5a5a5a" stroke-width="0.6"/>
<text class="b" transform="translate(12.00,353.50)" font-size="4.0" text-anchor="end" font-weight="bold">20</text>
<line x1="16.00" y1="339.40" x2="17.20" y2="339.40" stroke="#5a5a5a" stroke-width="0.6"/>
<text class="b" transform="translate(12.00,340.50)" font-size="4.0" text-anchor="end" font-weight="bold">25</text>
<line x1="16.00" y1="326.40" x2="17.20" y2="326.40" stroke="#5a5a5a" stroke-width="0.6"/>
<text class="b" transform="translate(12.00,327.50)" font-size="4.0" text-anchor="end" font-weight="bold">30</text>
<text class="yl" transform="translate(6.10,365.40) rotate(-90)" font-size="4.6" text-anchor="middle" font-weight="bold">µg N/gDW</text>
<text class="b" transform="translate(32.70,411.00)" font-size="4.3" text-anchor="middle" font-weight="bold">Allantoate</text>
<text class="b" transform="translate(22.41,401.60) scale(0.9,1)" font-size="4.8" text-anchor="middle" font-weight="bold">a</text>
<text class="b" transform="translate(27.56,401.60) scale(0.9,1)" font-size="4.8" text-anchor="middle" font-weight="bold">a</text>
<rect x="30.59" y="363.58" width="4.22" height="40.82" fill="#A5A5A5"/>
<line x1="32.70" y1="353.18" x2="32.70" y2="373.98" stroke="#5a5a5a" stroke-width="0.75"/>
<line x1="31.70" y1="353.18" x2="33.70" y2="353.18" stroke="#5a5a5a" stroke-width="0.75"/>
<text class="b" transform="translate(32.70,350.58) scale(0.9,1)" font-size="4.8" text-anchor="middle" font-weight="bold">a</text>
<rect x="35.73" y="385.42" width="4.22" height="18.98" fill="#FFC000"/>
<line x1="37.84" y1="365.92" x2="37.84" y2="404.40" stroke="#5a5a5a" stroke-width="0.75"/>
<line x1="36.84" y1="365.92" x2="38.84" y2="365.92" stroke="#5a5a5a" stroke-width="0.75"/>
<text class="b" transform="translate(37.84,363.32) scale(0.9,1)" font-size="4.8" text-anchor="middle" font-weight="bold">a</text>
<rect x="40.88" y="395.04" width="4.22" height="9.36" fill="#5B9BD5"/>
<line x1="42.99" y1="385.94" x2="42.99" y2="404.14" stroke="#5a5a5a" stroke-width="0.75"/>
<line x1="41.99" y1="385.94" x2="43.99" y2="385.94" stroke="#5a5a5a" stroke-width="0.75"/>
<text class="b" transform="translate(42.99,383.34) scale(0.9,1)" font-size="4.8" text-anchor="middle" font-weight="bold">a</text>
<text class="b" transform="translate(66.10,411.00)" font-size="4.3" text-anchor="middle" font-weight="bold">Allantoin</text>
<text class="b" transform="translate(66.60,400.40) scale(0.9,1)" font-size="5.2" text-anchor="middle" font-weight="bold">ND</text>
<rect x="114.8" y="326.4" width="63.20" height="78.00" fill="none" stroke="#737373" stroke-width="1"/>
<line x1="114.80" y1="404.40" x2="116.00" y2="404.40" stroke="#5a5a5a" stroke-width="0.6"/>
<text class="b" transform="translate(110.80,405.50)" font-size="4.0" text-anchor="end" font-weight="bold">0</text>
<line x1="114.80" y1="391.40" x2="116.00" y2="391.40" stroke="#5a5a5a" stroke-width="0.6"/>
<text class="b" transform="translate(110.80,392.50)" font-size="4.0" text-anchor="end" font-weight="bold">100</text>
<line x1="114.80" y1="378.40" x2="116.00" y2="378.40" stroke="#5a5a5a" stroke-width="0.6"/>
<text class="b" transform="translate(110.80,379.50)" font-size="4.0" text-anchor="end" font-weight="bold">200</text>
<line x1="114.80" y1="365.40" x2="116.00" y2="365.40" stroke="#5a5a5a" stroke-width="0.6"/>
<text class="b" transform="translate(110.80,366.50)" font-size="4.0" text-anchor="end" font-weight="bold">300</text>
<line x1="114.80" y1="352.40" x2="116.00" y2="352.40" stroke="#5a5a5a" stroke-width="0.6"/>
<text class="b" transform="translate(110.80,353.50)" font-size="4.0" text-anchor="end" font-weight="bold">400</text>
<line x1="114.80" y1="339.40" x2="116.00" y2="339.40" stroke="#5a5a5a" stroke-width="0.6"/>
<text class="b" transform="translate(110.80,340.50)" font-size="4.0" text-anchor="end" font-weight="bold">500</text>
<line x1="114.80" y1="326.40" x2="116.00" y2="326.40" stroke="#5a5a5a" stroke-width="0.6"/>
<text class="b" transform="translate(110.80,327.50)" font-size="4.0" text-anchor="end" font-weight="bold">600</text>
<text class="yl" transform="translate(102.00,365.40) rotate(-90)" font-size="4.6" text-anchor="middle" font-weight="bold">µgN/gDW</text>
<text class="b" transform="translate(130.60,411.00)" font-size="4.3" text-anchor="middle" font-weight="bold">Asn</text>
<text class="b" transform="translate(120.87,401.60) scale(0.9,1)" font-size="4.8" text-anchor="middle" font-weight="bold">c</text>
<rect x="123.74" y="377.75" width="3.99" height="26.65" fill="#ED7D31"/>
<line x1="125.73" y1="368.00" x2="125.73" y2="387.50" stroke="#5a5a5a" stroke-width="0.75"/>
<line x1="124.73" y1="368.00" x2="126.73" y2="368.00" stroke="#5a5a5a" stroke-width="0.75"/>
<text class="b" transform="translate(125.73,365.40) scale(0.9,1)" font-size="4.8" text-anchor="middle" font-weight="bold">bc</text>
<rect x="128.60" y="341.74" width="3.99" height="62.66" fill="#A5A5A5"/>
<line x1="130.60" y1="339.14" x2="130.60" y2="344.34" stroke="#5a5a5a" stroke-width="0.75"/>
<line x1="129.60" y1="339.14" x2="131.60" y2="339.14" stroke="#5a5a5a" stroke-width="0.75"/>
<text class="b" transform="translate(130.60,336.54) scale(0.9,1)" font-size="4.8" text-anchor="middle" font-weight="bold">a</text>
<rect x="133.47" y="349.54" width="3.99" height="54.86" fill="#FFC000"/>
<line x1="135.47" y1="346.29" x2="135.47" y2="352.79" stroke="#5a5a5a" stroke-width="0.75"/>
<line x1="134.47" y1="346.29" x2="136.47" y2="346.29" stroke="#5a5a5a" stroke-width="0.75"/>
<text class="b" transform="translate(135.47,343.69) scale(0.9,1)" font-size="4.8" text-anchor="middle" font-weight="bold">ab</text>
<rect x="138.34" y="348.50" width="3.99" height="55.90" fill="#5B9BD5"/>
<line x1="140.33" y1="338.10" x2="140.33" y2="358.90" stroke="#5a5a5a" stroke-width="0.75"/>
<line x1="139.33" y1="338.10" x2="141.33" y2="338.10" stroke="#5a5a5a" stroke-width="0.75"/>
<text class="b" transform="translate(140.33,335.50) scale(0.9,1)" font-size="4.8" text-anchor="middle" font-weight="bold">a</text>
<text class="b" transform="translate(162.20,411.00)" font-size="4.3" text-anchor="middle" font-weight="bold">Gln</text>
<text class="b" transform="translate(152.47,401.60) scale(0.9,1)" font-size="4.8" text-anchor="middle" font-weight="bold">b</text>
<text class="b" transform="translate(157.33,401.60) scale(0.9,1)" font-size="4.8" text-anchor="middle" font-weight="bold">b</text>
<rect x="160.20" y="386.46" width="3.99" height="17.94" fill="#A5A5A5"/>
<line x1="162.20" y1="385.42" x2="162.20" y2="387.50" stroke="#5a5a5a" stroke-width="0.75"/>
<line x1="161.20" y1="385.42" x2="163.20" y2="385.42" stroke="#5a5a5a" stroke-width="0.75"/>
<text class="b" transform="translate(162.20,382.82) scale(0.9,1)" font-size="4.8" text-anchor="middle" font-weight="bold">ab</text>
<rect x="165.07" y="378.40" width="3.99" height="26.00" fill="#FFC000"/>
<line x1="167.07" y1="375.15" x2="167.07" y2="381.65" stroke="#5a5a5a" stroke-width="0.75"/>
<line x1="166.07" y1="375.15" x2="168.07" y2="375.15" stroke="#5a5a5a" stroke-width="0.75"/>
<text class="b" transform="translate(167.07,372.55) scale(0.9,1)" font-size="4.8" text-anchor="middle" font-weight="bold">a</text>
<rect x="169.94" y="364.10" width="3.99" height="40.30" fill="#5B9BD5"/>
<line x1="171.93" y1="351.75" x2="171.93" y2="376.45" stroke="#5a5a5a" stroke-width="0.75"/>
<line x1="170.93" y1="351.75" x2="172.93" y2="351.75" stroke="#5a5a5a" stroke-width="0.75"/>
<text class="b" transform="translate(171.93,349.15) scale(0.9,1)" font-size="4.8" text-anchor="middle" font-weight="bold">a</text>
<rect x="207.8" y="326.4" width="66.80" height="78.00" fill="none" stroke="#737373" stroke-width="1"/>
<line x1="207.80" y1="404.40" x2="209.00" y2="404.40" stroke="#5a5a5a" stroke-width="0.6"/>
<text class="b" transform="translate(203.80,405.50)" font-size="4.0" text-anchor="end" font-weight="bold">0</text>
<line x1="207.80" y1="394.65" x2="209.00" y2="394.65" stroke="#5a5a5a" stroke-width="0.6"/>
<text class="b" transform="translate(203.80,395.75)" font-size="4.0" text-anchor="end" font-weight="bold">5</text>
<line x1="207.80" y1="384.90" x2="209.00" y2="384.90" stroke="#5a5a5a" stroke-width="0.6"/>
<text class="b" transform="translate(203.80,386.00)" font-size="4.0" text-anchor="end" font-weight="bold">10</text>
<line x1="207.80" y1="375.15" x2="209.00" y2="375.15" stroke="#5a5a5a" stroke-width="0.6"/>
<text class="b" transform="translate(203.80,376.25)" font-size="4.0" text-anchor="end" font-weight="bold">15</text>
<line x1="207.80" y1="365.40" x2="209.00" y2="365.40" stroke="#5a5a5a" stroke-width="0.6"/>
<text class="b" transform="translate(203.80,366.50)" font-size="4.0" text-anchor="end" font-weight="bold">20</text>
<line x1="207.80" y1="355.65" x2="209.00" y2="355.65" stroke="#5a5a5a" stroke-width="0.6"/>
<text class="b" transform="translate(203.80,356.75)" font-size="4.0" text-anchor="end" font-weight="bold">25</text>
<line x1="207.80" y1="345.90" x2="209.00" y2="345.90" stroke="#5a5a5a" stroke-width="0.6"/>
<text class="b" transform="translate(203.80,347.00)" font-size="4.0" text-anchor="end" font-weight="bold">30</text>
<line x1="207.80" y1="336.15" x2="209.00" y2="336.15" stroke="#5a5a5a" stroke-width="0.6"/>
<text class="b" transform="translate(203.80,337.25)" font-size="4.0" text-anchor="end" font-weight="bold">35</text>
<line x1="207.80" y1="326.40" x2="209.00" y2="326.40" stroke="#5a5a5a" stroke-width="0.6"/>
<text class="b" transform="translate(203.80,327.50)" font-size="4.0" text-anchor="end" font-weight="bold">40</text>
<text class="yl" transform="translate(198.30,365.40) rotate(-90)" font-size="4.6" text-anchor="middle" font-weight="bold">µg N/gDW</text>
<text class="b" transform="translate(224.50,411.00)" font-size="4.3" text-anchor="middle" font-weight="bold">Asp</text>
<rect x="212.10" y="396.99" width="4.22" height="7.41" fill="#4472C4"/>
<line x1="214.21" y1="395.04" x2="214.21" y2="398.94" stroke="#5a5a5a" stroke-width="0.75"/>
<line x1="213.21" y1="395.04" x2="215.21" y2="395.04" stroke="#5a5a5a" stroke-width="0.75"/>
<text class="b" transform="translate(214.21,392.44) scale(0.9,1)" font-size="4.8" text-anchor="middle" font-weight="bold">c</text>
<rect x="217.25" y="386.46" width="4.22" height="17.94" fill="#ED7D31"/>
<line x1="219.36" y1="384.90" x2="219.36" y2="388.02" stroke="#5a5a5a" stroke-width="0.75"/>
<line x1="218.36" y1="384.90" x2="220.36" y2="384.90" stroke="#5a5a5a" stroke-width="0.75"/>
<text class="b" transform="translate(219.36,382.30) scale(0.9,1)" font-size="4.8" text-anchor="middle" font-weight="bold">bc</text>
<rect x="222.39" y="372.61" width="4.22" height="31.79" fill="#A5A5A5"/>
<line x1="224.50" y1="371.64" x2="224.50" y2="373.59" stroke="#5a5a5a" stroke-width="0.75"/>
<line x1="223.50" y1="371.64" x2="225.50" y2="371.64" stroke="#5a5a5a" stroke-width="0.75"/>
<text class="b" transform="translate(224.50,369.04) scale(0.9,1)" font-size="4.8" text-anchor="middle" font-weight="bold">ab</text>
<rect x="227.53" y="374.76" width="4.22" height="29.64" fill="#FFC000"/>
<line x1="229.64" y1="373.78" x2="229.64" y2="375.73" stroke="#5a5a5a" stroke-width="0.75"/>
<line x1="228.64" y1="373.78" x2="230.64" y2="373.78" stroke="#5a5a5a" stroke-width="0.75"/>
<text class="b" transform="translate(229.64,371.18) scale(0.9,1)" font-size="4.8" text-anchor="middle" font-weight="bold">ab</text>
<rect x="232.68" y="369.88" width="4.22" height="34.52" fill="#5B9BD5"/>
<line x1="234.79" y1="364.03" x2="234.79" y2="375.73" stroke="#5a5a5a" stroke-width="0.75"/>
<line x1="233.79" y1="364.03" x2="235.79" y2="364.03" stroke="#5a5a5a" stroke-width="0.75"/>
<text class="b" transform="translate(234.79,361.43) scale(0.9,1)" font-size="4.8" text-anchor="middle" font-weight="bold">a</text>
<text class="b" transform="translate(257.90,411.00)" font-size="4.3" text-anchor="middle" font-weight="bold">Glu</text>
<rect x="245.50" y="383.92" width="4.22" height="20.48" fill="#4472C4"/>
<line x1="247.61" y1="381.00" x2="247.61" y2="386.85" stroke="#5a5a5a" stroke-width="0.75"/>
<line x1="246.61" y1="381.00" x2="248.61" y2="381.00" stroke="#5a5a5a" stroke-width="0.75"/>
<text class="b" transform="translate(247.61,378.40) scale(0.9,1)" font-size="4.8" text-anchor="middle" font-weight="bold">a</text>
<rect x="250.65" y="371.64" width="4.22" height="32.76" fill="#ED7D31"/>
<line x1="252.76" y1="363.84" x2="252.76" y2="379.44" stroke="#5a5a5a" stroke-width="0.75"/>
<line x1="251.76" y1="363.84" x2="253.76" y2="363.84" stroke="#5a5a5a" stroke-width="0.75"/>
<text class="b" transform="translate(252.76,361.24) scale(0.9,1)" font-size="4.8" text-anchor="middle" font-weight="bold">a</text>
<rect x="255.79" y="367.35" width="4.22" height="37.05" fill="#A5A5A5"/>
<line x1="257.90" y1="355.65" x2="257.90" y2="379.05" stroke="#5a5a5a" stroke-width="0.75"/>
<line x1="256.90" y1="355.65" x2="258.90" y2="355.65" stroke="#5a5a5a" stroke-width="0.75"/>
<text class="b" transform="translate(257.90,353.05) scale(0.9,1)" font-size="4.8" text-anchor="middle" font-weight="bold">a</text>
<rect x="260.93" y="342.00" width="4.22" height="62.40" fill="#FFC000"/>
<line x1="263.04" y1="332.25" x2="263.04" y2="351.75" stroke="#5a5a5a" stroke-width="0.75"/>
<line x1="262.04" y1="332.25" x2="264.04" y2="332.25" stroke="#5a5a5a" stroke-width="0.75"/>
<text class="b" transform="translate(263.04,329.65) scale(0.9,1)" font-size="4.8" text-anchor="middle" font-weight="bold">a</text>
<rect x="266.08" y="354.67" width="4.22" height="49.73" fill="#5B9BD5"/>
<line x1="268.19" y1="341.02" x2="268.19" y2="368.32" stroke="#5a5a5a" stroke-width="0.75"/>
<line x1="267.19" y1="341.02" x2="269.19" y2="341.02" stroke="#5a5a5a" stroke-width="0.75"/>
<text class="b" transform="translate(268.19,338.42) scale(0.9,1)" font-size="4.8" text-anchor="middle" font-weight="bold">a</text>
<rect x="307.4" y="326.4" width="62.90" height="78.20" fill="none" stroke="#737373" stroke-width="1"/>
<line x1="307.40" y1="404.60" x2="308.60" y2="404.60" stroke="#5a5a5a" stroke-width="0.6"/>
<text class="b" transform="translate(303.40,405.70)" font-size="4.0" text-anchor="end" font-weight="bold">0</text>
<line x1="307.40" y1="391.57" x2="308.60" y2="391.57" stroke="#5a5a5a" stroke-width="0.6"/>
<text class="b" transform="translate(303.40,392.67)" font-size="4.0" text-anchor="end" font-weight="bold">0.01</text>
<line x1="307.40" y1="378.53" x2="308.60" y2="378.53" stroke="#5a5a5a" stroke-width="0.6"/>
<text class="b" transform="translate(303.40,379.63)" font-size="4.0" text-anchor="end" font-weight="bold">0.02</text>
<line x1="307.40" y1="365.50" x2="308.60" y2="365.50" stroke="#5a5a5a" stroke-width="0.6"/>
<text class="b" transform="translate(303.40,366.60)" font-size="4.0" text-anchor="end" font-weight="bold">0.03</text>
<line x1="307.40" y1="352.47" x2="308.60" y2="352.47" stroke="#5a5a5a" stroke-width="0.6"/>
<text class="b" transform="translate(303.40,353.57)" font-size="4.0" text-anchor="end" font-weight="bold">0.04</text>
<line x1="307.40" y1="339.43" x2="308.60" y2="339.43" stroke="#5a5a5a" stroke-width="0.6"/>
<text class="b" transform="translate(303.40,340.53)" font-size="4.0" text-anchor="end" font-weight="bold">0.05</text>
<line x1="307.40" y1="326.40" x2="308.60" y2="326.40" stroke="#5a5a5a" stroke-width="0.6"/>
<text class="b" transform="translate(303.40,327.50)" font-size="4.0" text-anchor="end" font-weight="bold">0.06</text>
<text class="yl" transform="translate(293.80,365.50) rotate(-90)" font-size="4.6" text-anchor="middle" font-weight="bold">µgN/gDW</text>
<text class="b" transform="translate(323.12,411.20)" font-size="4.3" text-anchor="middle" font-weight="bold">Urea</text>
<rect x="311.45" y="398.08" width="3.97" height="6.52" fill="#4472C4"/>
<line x1="313.44" y1="395.48" x2="313.44" y2="400.69" stroke="#5a5a5a" stroke-width="0.75"/>
<line x1="312.44" y1="395.48" x2="314.44" y2="395.48" stroke="#5a5a5a" stroke-width="0.75"/>
<text class="b" transform="translate(313.44,392.88) scale(0.9,1)" font-size="4.8" text-anchor="middle" font-weight="bold">a</text>
<rect x="316.30" y="374.62" width="3.97" height="29.98" fill="#ED7D31"/>
<line x1="318.28" y1="354.42" x2="318.28" y2="394.83" stroke="#5a5a5a" stroke-width="0.75"/>
<line x1="317.28" y1="354.42" x2="319.28" y2="354.42" stroke="#5a5a5a" stroke-width="0.75"/>
<text class="b" transform="translate(318.28,353.62) scale(0.9,1)" font-size="4.8" text-anchor="middle" font-weight="bold">a</text>
<rect x="321.14" y="391.83" width="3.97" height="12.77" fill="#A5A5A5"/>
<line x1="323.12" y1="375.93" x2="323.12" y2="404.60" stroke="#5a5a5a" stroke-width="0.75"/>
<line x1="322.12" y1="375.93" x2="324.12" y2="375.93" stroke="#5a5a5a" stroke-width="0.75"/>
<text class="b" transform="translate(323.12,374.13) scale(0.9,1)" font-size="4.8" text-anchor="middle" font-weight="bold">a</text>
<rect x="325.98" y="396.13" width="3.97" height="8.47" fill="#FFC000"/>
<line x1="327.97" y1="390.26" x2="327.97" y2="401.99" stroke="#5a5a5a" stroke-width="0.75"/>
<line x1="326.97" y1="390.26" x2="328.97" y2="390.26" stroke="#5a5a5a" stroke-width="0.75"/>
<text class="b" transform="translate(327.97,387.66) scale(0.9,1)" font-size="4.8" text-anchor="middle" font-weight="bold">a</text>
<rect x="330.83" y="384.40" width="3.97" height="20.20" fill="#5B9BD5"/>
<line x1="332.81" y1="377.88" x2="332.81" y2="390.92" stroke="#5a5a5a" stroke-width="0.75"/>
<line x1="331.81" y1="377.88" x2="333.81" y2="377.88" stroke="#5a5a5a" stroke-width="0.75"/>
<text class="b" transform="translate(332.81,375.28) scale(0.9,1)" font-size="4.8" text-anchor="middle" font-weight="bold">a</text>
<text class="b" transform="translate(354.57,411.20)" font-size="4.3" text-anchor="middle" font-weight="bold">Ammonium</text>
<rect x="342.90" y="400.04" width="3.97" height="4.56" fill="#4472C4"/>
<line x1="344.89" y1="394.83" x2="344.89" y2="404.60" stroke="#5a5a5a" stroke-width="0.75"/>
<line x1="343.89" y1="394.83" x2="345.89" y2="394.83" stroke="#5a5a5a" stroke-width="0.75"/>
<text class="b" transform="translate(344.89,392.23) scale(0.9,1)" font-size="4.8" text-anchor="middle" font-weight="bold">b</text>
<rect x="347.75" y="400.69" width="3.97" height="3.91" fill="#ED7D31"/>
<line x1="349.73" y1="399.39" x2="349.73" y2="401.99" stroke="#5a5a5a" stroke-width="0.75"/>
<line x1="348.73" y1="399.39" x2="350.73" y2="399.39" stroke="#5a5a5a" stroke-width="0.75"/>
<text class="b" transform="translate(349.73,396.79) scale(0.9,1)" font-size="4.8" text-anchor="middle" font-weight="bold">b</text>
<rect x="352.59" y="375.27" width="3.97" height="29.33" fill="#A5A5A5"/>
<line x1="354.57" y1="361.59" x2="354.57" y2="388.96" stroke="#5a5a5a" stroke-width="0.75"/>
<line x1="353.57" y1="361.59" x2="355.57" y2="361.59" stroke="#5a5a5a" stroke-width="0.75"/>
<text class="b" transform="translate(354.57,358.99) scale(0.9,1)" font-size="4.8" text-anchor="middle" font-weight="bold">ab</text>
<rect x="357.43" y="366.80" width="3.97" height="37.80" fill="#FFC000"/>
<line x1="359.42" y1="356.38" x2="359.42" y2="377.23" stroke="#5a5a5a" stroke-width="0.75"/>
<line x1="358.42" y1="356.38" x2="360.42" y2="356.38" stroke="#5a5a5a" stroke-width="0.75"/>
<text class="b" transform="translate(359.42,353.78) scale(0.9,1)" font-size="4.8" text-anchor="middle" font-weight="bold">ab</text>
<rect x="362.28" y="352.47" width="3.97" height="52.13" fill="#5B9BD5"/>
<line x1="364.26" y1="342.69" x2="364.26" y2="362.24" stroke="#5a5a5a" stroke-width="0.75"/>
<line x1="363.26" y1="342.69" x2="365.26" y2="342.69" stroke="#5a5a5a" stroke-width="0.75"/>
<text class="b" transform="translate(364.26,340.09) scale(0.9,1)" font-size="4.8" text-anchor="middle" font-weight="bold">a</text>
<text class="serif" x="13.0" y="430.6" font-size="10.5" font-weight="normal">(D)</text>
<rect x="52.70" y="448.20" width="4.3" height="4.3" fill="#4472C4"/>
<text class="r" transform="translate(59.70,452.30) scale(0.93,1)" font-size="6.0" text-anchor="start" font-weight="normal">Control</text>
<rect x="95.90" y="448.20" width="4.3" height="4.3" fill="#ED7D31"/>
<text class="r" transform="translate(103.60,452.30) scale(0.93,1)" font-size="6.0" text-anchor="start" font-weight="normal">0.5 mM Urea</text>
<rect x="144.80" y="448.20" width="4.3" height="4.3" fill="#A5A5A5"/>
<text class="r" transform="translate(152.80,452.30) scale(0.93,1)" font-size="6.0" text-anchor="start" font-weight="normal">1 mM Urea</text>
<rect x="187.80" y="448.20" width="4.3" height="4.3" fill="#FFC000"/>
<text class="r" transform="translate(197.00,452.30) scale(0.93,1)" font-size="6.0" text-anchor="start" font-weight="normal">2.5 mM Urea</text>
<rect x="234.70" y="448.20" width="4.3" height="4.3" fill="#5B9BD5"/>
<text class="r" transform="translate(242.80,452.30) scale(0.93,1)" font-size="6.0" text-anchor="start" font-weight="normal">5 mM Urea</text>
<rect x="16" y="463.4" width="66.40" height="77.10" fill="none" stroke="#737373" stroke-width="1"/>
<line x1="16.00" y1="540.50" x2="17.20" y2="540.50" stroke="#5a5a5a" stroke-width="0.6"/>
<text class="b" transform="translate(12.00,541.60)" font-size="4.0" text-anchor="end" font-weight="bold">0</text>
<line x1="16.00" y1="532.79" x2="17.20" y2="532.79" stroke="#5a5a5a" stroke-width="0.6"/>
<text class="b" transform="translate(12.00,533.89)" font-size="4.0" text-anchor="end" font-weight="bold">1</text>
<line x1="16.00" y1="525.08" x2="17.20" y2="525.08" stroke="#5a5a5a" stroke-width="0.6"/>
<text class="b" transform="translate(12.00,526.18)" font-size="4.0" text-anchor="end" font-weight="bold">2</text>
<line x1="16.00" y1="517.37" x2="17.20" y2="517.37" stroke="#5a5a5a" stroke-width="0.6"/>
<text class="b" transform="translate(12.00,518.47)" font-size="4.0" text-anchor="end" font-weight="bold">3</text>
<line x1="16.00" y1="509.66" x2="17.20" y2="509.66" stroke="#5a5a5a" stroke-width="0.6"/>
<text class="b" transform="translate(12.00,510.76)" font-size="4.0" text-anchor="end" font-weight="bold">4</text>
<line x1="16.00" y1="501.95" x2="17.20" y2="501.95" stroke="#5a5a5a" stroke-width="0.6"/>
<text class="b" transform="translate(12.00,503.05)" font-size="4.0" text-anchor="end" font-weight="bold">5</text>
<line x1="16.00" y1="494.24" x2="17.20" y2="494.24" stroke="#5a5a5a" stroke-width="0.6"/>
<text class="b" transform="translate(12.00,495.34)" font-size="4.0" text-anchor="end" font-weight="bold">6</text>
<line x1="16.00" y1="486.53" x2="17.20" y2="486.53" stroke="#5a5a5a" stroke-width="0.6"/>
<text class="b" transform="translate(12.00,487.63)" font-size="4.0" text-anchor="end" font-weight="bold">7</text>
<line x1="16.00" y1="478.82" x2="17.20" y2="478.82" stroke="#5a5a5a" stroke-width="0.6"/>
<text class="b" transform="translate(12.00,479.92)" font-size="4.0" text-anchor="end" font-weight="bold">8</text>
<line x1="16.00" y1="471.11" x2="17.20" y2="471.11" stroke="#5a5a5a" stroke-width="0.6"/>
<text class="b" transform="translate(12.00,472.21)" font-size="4.0" text-anchor="end" font-weight="bold">9</text>
<line x1="16.00" y1="463.40" x2="17.20" y2="463.40" stroke="#5a5a5a" stroke-width="0.6"/>
<text class="b" transform="translate(12.00,464.50)" font-size="4.0" text-anchor="end" font-weight="bold">10</text>
<text class="yl" transform="translate(6.30,501.95) rotate(-90)" font-size="4.6" text-anchor="middle" font-weight="bold">µg N/gDW</text>
<text class="b" transform="translate(32.60,547.10)" font-size="4.3" text-anchor="middle" font-weight="bold">Allantoate</text>
<text class="b" transform="translate(22.37,537.70) scale(0.9,1)" font-size="4.8" text-anchor="middle" font-weight="bold">a</text>
<text class="b" transform="translate(27.49,537.70) scale(0.9,1)" font-size="4.8" text-anchor="middle" font-weight="bold">a</text>
<rect x="30.50" y="511.20" width="4.19" height="29.30" fill="#A5A5A5"/>
<text class="b" transform="translate(32.60,508.80) scale(0.9,1)" font-size="4.8" text-anchor="middle" font-weight="bold">a</text>
<text class="b" transform="translate(37.71,537.70) scale(0.9,1)" font-size="4.8" text-anchor="middle" font-weight="bold">a</text>
<rect x="40.73" y="522.00" width="4.19" height="18.50" fill="#5B9BD5"/>
<text class="b" transform="translate(42.83,519.60) scale(0.9,1)" font-size="4.8" text-anchor="middle" font-weight="bold">a</text>
<text class="b" transform="translate(65.80,547.10)" font-size="4.3" text-anchor="middle" font-weight="bold">Allantoin</text>
<text class="b" transform="translate(66.30,536.50) scale(0.9,1)" font-size="5.2" text-anchor="middle" font-weight="bold">ND</text>
<rect x="113.4" y="463.4" width="64.10" height="77.10" fill="none" stroke="#737373" stroke-width="1"/>
<line x1="113.40" y1="540.50" x2="114.60" y2="540.50" stroke="#5a5a5a" stroke-width="0.6"/>
<text class="b" transform="translate(109.40,541.60)" font-size="4.0" text-anchor="end" font-weight="bold">0</text>
<line x1="113.40" y1="527.65" x2="114.60" y2="527.65" stroke="#5a5a5a" stroke-width="0.6"/>
<text class="b" transform="translate(109.40,528.75)" font-size="4.0" text-anchor="end" font-weight="bold">50</text>
<line x1="113.40" y1="514.80" x2="114.60" y2="514.80" stroke="#5a5a5a" stroke-width="0.6"/>
<text class="b" transform="translate(109.40,515.90)" font-size="4.0" text-anchor="end" font-weight="bold">100</text>
<line x1="113.40" y1="501.95" x2="114.60" y2="501.95" stroke="#5a5a5a" stroke-width="0.6"/>
<text class="b" transform="translate(109.40,503.05)" font-size="4.0" text-anchor="end" font-weight="bold">150</text>
<line x1="113.40" y1="489.10" x2="114.60" y2="489.10" stroke="#5a5a5a" stroke-width="0.6"/>
<text class="b" transform="translate(109.40,490.20)" font-size="4.0" text-anchor="end" font-weight="bold">200</text>
<line x1="113.40" y1="476.25" x2="114.60" y2="476.25" stroke="#5a5a5a" stroke-width="0.6"/>
<text class="b" transform="translate(109.40,477.35)" font-size="4.0" text-anchor="end" font-weight="bold">250</text>
<line x1="113.40" y1="463.40" x2="114.60" y2="463.40" stroke="#5a5a5a" stroke-width="0.6"/>
<text class="b" transform="translate(109.40,464.50)" font-size="4.0" text-anchor="end" font-weight="bold">300</text>
<text class="yl" transform="translate(101.10,501.95) rotate(-90)" font-size="4.6" text-anchor="middle" font-weight="bold">µg N/gDW</text>
<text class="b" transform="translate(129.43,547.10)" font-size="4.3" text-anchor="middle" font-weight="bold">Asn</text>
<text class="b" transform="translate(119.55,537.70) scale(0.9,1)" font-size="4.8" text-anchor="middle" font-weight="bold">b</text>
<rect x="122.47" y="537.42" width="4.05" height="3.08" fill="#ED7D31"/>
<line x1="124.49" y1="536.13" x2="124.49" y2="538.70" stroke="#5a5a5a" stroke-width="0.75"/>
<line x1="123.49" y1="536.13" x2="125.49" y2="536.13" stroke="#5a5a5a" stroke-width="0.75"/>
<text class="b" transform="translate(124.49,533.53) scale(0.9,1)" font-size="4.8" text-anchor="middle" font-weight="bold">b</text>
<rect x="127.40" y="475.74" width="4.05" height="64.76" fill="#A5A5A5"/>
<line x1="129.43" y1="470.08" x2="129.43" y2="481.39" stroke="#5a5a5a" stroke-width="0.75"/>
<line x1="128.43" y1="470.08" x2="130.43" y2="470.08" stroke="#5a5a5a" stroke-width="0.75"/>
<text class="b" transform="translate(129.43,467.48) scale(0.9,1)" font-size="4.8" text-anchor="middle" font-weight="bold">a</text>
<rect x="132.34" y="489.10" width="4.05" height="51.40" fill="#FFC000"/>
<line x1="134.36" y1="483.96" x2="134.36" y2="494.24" stroke="#5a5a5a" stroke-width="0.75"/>
<line x1="133.36" y1="483.96" x2="135.36" y2="483.96" stroke="#5a5a5a" stroke-width="0.75"/>
<text class="b" transform="translate(134.36,481.36) scale(0.9,1)" font-size="4.8" text-anchor="middle" font-weight="bold">a</text>
<rect x="137.27" y="505.29" width="4.05" height="35.21" fill="#5B9BD5"/>
<line x1="139.30" y1="491.16" x2="139.30" y2="519.43" stroke="#5a5a5a" stroke-width="0.75"/>
<line x1="138.30" y1="491.16" x2="140.30" y2="491.16" stroke="#5a5a5a" stroke-width="0.75"/>
<text class="b" transform="translate(139.30,488.56) scale(0.9,1)" font-size="4.8" text-anchor="middle" font-weight="bold">a</text>
<text class="b" transform="translate(161.47,547.10)" font-size="4.3" text-anchor="middle" font-weight="bold">Gln</text>
<text class="b" transform="translate(151.60,537.70) scale(0.9,1)" font-size="4.8" text-anchor="middle" font-weight="bold">b</text>
<text class="b" transform="translate(156.54,537.70) scale(0.9,1)" font-size="4.8" text-anchor="middle" font-weight="bold">b</text>
<rect x="159.45" y="530.73" width="4.05" height="9.77" fill="#A5A5A5"/>
<line x1="161.47" y1="523.79" x2="161.47" y2="537.67" stroke="#5a5a5a" stroke-width="0.75"/>
<line x1="160.47" y1="523.79" x2="162.47" y2="523.79" stroke="#5a5a5a" stroke-width="0.75"/>
<text class="b" transform="translate(161.47,521.19) scale(0.9,1)" font-size="4.8" text-anchor="middle" font-weight="bold">ab</text>
<rect x="164.39" y="510.94" width="4.05" height="29.56" fill="#FFC000"/>
<line x1="166.41" y1="507.86" x2="166.41" y2="514.03" stroke="#5a5a5a" stroke-width="0.75"/>
<line x1="165.41" y1="507.86" x2="167.41" y2="507.86" stroke="#5a5a5a" stroke-width="0.75"/>
<text class="b" transform="translate(166.41,505.26) scale(0.9,1)" font-size="4.8" text-anchor="middle" font-weight="bold">a</text>
<rect x="169.32" y="508.38" width="4.05" height="32.13" fill="#5B9BD5"/>
<line x1="171.35" y1="495.52" x2="171.35" y2="521.23" stroke="#5a5a5a" stroke-width="0.75"/>
<line x1="170.35" y1="495.52" x2="172.35" y2="495.52" stroke="#5a5a5a" stroke-width="0.75"/>
<text class="b" transform="translate(171.35,492.92) scale(0.9,1)" font-size="4.8" text-anchor="middle" font-weight="bold">a</text>
<rect x="207.8" y="463.4" width="64.40" height="77.10" fill="none" stroke="#737373" stroke-width="1"/>
<line x1="207.80" y1="540.50" x2="209.00" y2="540.50" stroke="#5a5a5a" stroke-width="0.6"/>
<text class="b" transform="translate(203.80,541.60)" font-size="4.0" text-anchor="end" font-weight="bold">0</text>
<line x1="207.80" y1="532.79" x2="209.00" y2="532.79" stroke="#5a5a5a" stroke-width="0.6"/>
<text class="b" transform="translate(203.80,533.89)" font-size="4.0" text-anchor="end" font-weight="bold">10</text>
<line x1="207.80" y1="525.08" x2="209.00" y2="525.08" stroke="#5a5a5a" stroke-width="0.6"/>
<text class="b" transform="translate(203.80,526.18)" font-size="4.0" text-anchor="end" font-weight="bold">20</text>
<line x1="207.80" y1="517.37" x2="209.00" y2="517.37" stroke="#5a5a5a" stroke-width="0.6"/>
<text class="b" transform="translate(203.80,518.47)" font-size="4.0" text-anchor="end" font-weight="bold">30</text>
<line x1="207.80" y1="509.66" x2="209.00" y2="509.66" stroke="#5a5a5a" stroke-width="0.6"/>
<text class="b" transform="translate(203.80,510.76)" font-size="4.0" text-anchor="end" font-weight="bold">40</text>
<line x1="207.80" y1="501.95" x2="209.00" y2="501.95" stroke="#5a5a5a" stroke-width="0.6"/>
<text class="b" transform="translate(203.80,503.05)" font-size="4.0" text-anchor="end" font-weight="bold">50</text>
<line x1="207.80" y1="494.24" x2="209.00" y2="494.24" stroke="#5a5a5a" stroke-width="0.6"/>
<text class="b" transform="translate(203.80,495.34)" font-size="4.0" text-anchor="end" font-weight="bold">60</text>
<line x1="207.80" y1="486.53" x2="209.00" y2="486.53" stroke="#5a5a5a" stroke-width="0.6"/>
<text class="b" transform="translate(203.80,487.63)" font-size="4.0" text-anchor="end" font-weight="bold">70</text>
<line x1="207.80" y1="478.82" x2="209.00" y2="478.82" stroke="#5a5a5a" stroke-width="0.6"/>
<text class="b" transform="translate(203.80,479.92)" font-size="4.0" text-anchor="end" font-weight="bold">80</text>
<line x1="207.80" y1="471.11" x2="209.00" y2="471.11" stroke="#5a5a5a" stroke-width="0.6"/>
<text class="b" transform="translate(203.80,472.21)" font-size="4.0" text-anchor="end" font-weight="bold">90</text>
<line x1="207.80" y1="463.40" x2="209.00" y2="463.40" stroke="#5a5a5a" stroke-width="0.6"/>
<text class="b" transform="translate(203.80,464.50)" font-size="4.0" text-anchor="end" font-weight="bold">100</text>
<text class="yl" transform="translate(196.30,501.95) rotate(-90)" font-size="4.6" text-anchor="middle" font-weight="bold">µg N/gDW</text>
<text class="b" transform="translate(223.90,547.10)" font-size="4.3" text-anchor="middle" font-weight="bold">Asp</text>
<rect x="211.95" y="537.42" width="4.07" height="3.08" fill="#4472C4"/>
<line x1="213.98" y1="536.26" x2="213.98" y2="538.57" stroke="#5a5a5a" stroke-width="0.75"/>
<line x1="212.98" y1="536.26" x2="214.98" y2="536.26" stroke="#5a5a5a" stroke-width="0.75"/>
<text class="b" transform="translate(213.98,533.66) scale(0.9,1)" font-size="4.8" text-anchor="middle" font-weight="bold">b</text>
<rect x="216.91" y="533.56" width="4.07" height="6.94" fill="#ED7D31"/>
<line x1="218.94" y1="532.79" x2="218.94" y2="534.33" stroke="#5a5a5a" stroke-width="0.75"/>
<line x1="217.94" y1="532.79" x2="219.94" y2="532.79" stroke="#5a5a5a" stroke-width="0.75"/>
<text class="b" transform="translate(218.94,530.19) scale(0.9,1)" font-size="4.8" text-anchor="middle" font-weight="bold">b</text>
<rect x="221.87" y="526.24" width="4.07" height="14.26" fill="#A5A5A5"/>
<line x1="223.90" y1="525.47" x2="223.90" y2="527.01" stroke="#5a5a5a" stroke-width="0.75"/>
<line x1="222.90" y1="525.47" x2="224.90" y2="525.47" stroke="#5a5a5a" stroke-width="0.75"/>
<text class="b" transform="translate(223.90,522.87) scale(0.9,1)" font-size="4.8" text-anchor="middle" font-weight="bold">a</text>
<rect x="226.83" y="527.01" width="4.07" height="13.49" fill="#FFC000"/>
<line x1="228.86" y1="525.47" x2="228.86" y2="528.55" stroke="#5a5a5a" stroke-width="0.75"/>
<line x1="227.86" y1="525.47" x2="229.86" y2="525.47" stroke="#5a5a5a" stroke-width="0.75"/>
<text class="b" transform="translate(228.86,522.87) scale(0.9,1)" font-size="4.8" text-anchor="middle" font-weight="bold">a</text>
<rect x="231.78" y="525.85" width="4.07" height="14.65" fill="#5B9BD5"/>
<line x1="233.82" y1="522.77" x2="233.82" y2="528.93" stroke="#5a5a5a" stroke-width="0.75"/>
<line x1="232.82" y1="522.77" x2="234.82" y2="522.77" stroke="#5a5a5a" stroke-width="0.75"/>
<text class="b" transform="translate(233.82,520.17) scale(0.9,1)" font-size="4.8" text-anchor="middle" font-weight="bold">a</text>
<text class="b" transform="translate(256.10,547.10)" font-size="4.3" text-anchor="middle" font-weight="bold">Glu</text>
<rect x="244.15" y="528.93" width="4.07" height="11.57" fill="#4472C4"/>
<line x1="246.18" y1="526.62" x2="246.18" y2="531.25" stroke="#5a5a5a" stroke-width="0.75"/>
<line x1="245.18" y1="526.62" x2="247.18" y2="526.62" stroke="#5a5a5a" stroke-width="0.75"/>
<text class="b" transform="translate(246.18,524.02) scale(0.9,1)" font-size="4.8" text-anchor="middle" font-weight="bold">b</text>
<rect x="249.11" y="523.15" width="4.07" height="17.35" fill="#ED7D31"/>
<line x1="251.14" y1="521.61" x2="251.14" y2="524.69" stroke="#5a5a5a" stroke-width="0.75"/>
<line x1="250.14" y1="521.61" x2="252.14" y2="521.61" stroke="#5a5a5a" stroke-width="0.75"/>
<text class="b" transform="translate(251.14,519.01) scale(0.9,1)" font-size="4.8" text-anchor="middle" font-weight="bold">b</text>
<rect x="254.07" y="500.41" width="4.07" height="40.09" fill="#A5A5A5"/>
<line x1="256.10" y1="498.87" x2="256.10" y2="501.95" stroke="#5a5a5a" stroke-width="0.75"/>
<line x1="255.10" y1="498.87" x2="257.10" y2="498.87" stroke="#5a5a5a" stroke-width="0.75"/>
<text class="b" transform="translate(256.10,496.27) scale(0.9,1)" font-size="4.8" text-anchor="middle" font-weight="bold">a</text>
<rect x="259.03" y="492.70" width="4.07" height="47.80" fill="#FFC000"/>
<line x1="261.06" y1="486.53" x2="261.06" y2="498.87" stroke="#5a5a5a" stroke-width="0.75"/>
<line x1="260.06" y1="486.53" x2="262.06" y2="486.53" stroke="#5a5a5a" stroke-width="0.75"/>
<text class="b" transform="translate(261.06,483.93) scale(0.9,1)" font-size="4.8" text-anchor="middle" font-weight="bold">a</text>
<rect x="263.98" y="486.53" width="4.07" height="53.97" fill="#5B9BD5"/>
<line x1="266.02" y1="479.98" x2="266.02" y2="493.08" stroke="#5a5a5a" stroke-width="0.75"/>
<line x1="265.02" y1="479.98" x2="267.02" y2="479.98" stroke="#5a5a5a" stroke-width="0.75"/>
<text class="b" transform="translate(266.02,477.38) scale(0.9,1)" font-size="4.8" text-anchor="middle" font-weight="bold">a</text>
<rect x="303.8" y="463.4" width="63.40" height="77.30" fill="none" stroke="#737373" stroke-width="1"/>
<line x1="303.80" y1="540.70" x2="305.00" y2="540.70" stroke="#5a5a5a" stroke-width="0.6"/>
<text class="b" transform="translate(299.80,541.80)" font-size="4.0" text-anchor="end" font-weight="bold">0</text>
<line x1="303.80" y1="525.24" x2="305.00" y2="525.24" stroke="#5a5a5a" stroke-width="0.6"/>
<text class="b" transform="translate(299.80,526.34)" font-size="4.0" text-anchor="end" font-weight="bold">0.01</text>
<line x1="303.80" y1="509.78" x2="305.00" y2="509.78" stroke="#5a5a5a" stroke-width="0.6"/>
<text class="b" transform="translate(299.80,510.88)" font-size="4.0" text-anchor="end" font-weight="bold">0.02</text>
<line x1="303.80" y1="494.32" x2="305.00" y2="494.32" stroke="#5a5a5a" stroke-width="0.6"/>
<text class="b" transform="translate(299.80,495.42)" font-size="4.0" text-anchor="end" font-weight="bold">0.03</text>
<line x1="303.80" y1="478.86" x2="305.00" y2="478.86" stroke="#5a5a5a" stroke-width="0.6"/>
<text class="b" transform="translate(299.80,479.96)" font-size="4.0" text-anchor="end" font-weight="bold">0.04</text>
<line x1="303.80" y1="463.40" x2="305.00" y2="463.40" stroke="#5a5a5a" stroke-width="0.6"/>
<text class="b" transform="translate(299.80,464.50)" font-size="4.0" text-anchor="end" font-weight="bold">0.05</text>
<text class="yl" transform="translate(290.30,502.05) rotate(-90)" font-size="4.6" text-anchor="middle" font-weight="bold">µg N/gDW</text>
<text class="b" transform="translate(319.65,547.30)" font-size="4.3" text-anchor="middle" font-weight="bold">Urea</text>
<rect x="307.88" y="529.11" width="4.00" height="11.60" fill="#4472C4"/>
<line x1="309.89" y1="519.06" x2="309.89" y2="539.15" stroke="#5a5a5a" stroke-width="0.75"/>
<line x1="308.89" y1="519.06" x2="310.89" y2="519.06" stroke="#5a5a5a" stroke-width="0.75"/>
<text class="b" transform="translate(309.89,516.46) scale(0.9,1)" font-size="4.8" text-anchor="middle" font-weight="bold">a</text>
<text class="b" transform="translate(314.77,537.90) scale(0.9,1)" font-size="4.8" text-anchor="middle" font-weight="bold">a</text>
<rect x="317.65" y="516.74" width="4.00" height="23.96" fill="#A5A5A5"/>
<line x1="319.65" y1="508.23" x2="319.65" y2="525.24" stroke="#5a5a5a" stroke-width="0.75"/>
<line x1="318.65" y1="508.23" x2="320.65" y2="508.23" stroke="#5a5a5a" stroke-width="0.75"/>
<text class="b" transform="translate(319.65,505.63) scale(0.9,1)" font-size="4.8" text-anchor="middle" font-weight="bold">a</text>
<rect x="322.53" y="523.69" width="4.00" height="17.01" fill="#FFC000"/>
<line x1="324.53" y1="519.06" x2="324.53" y2="528.33" stroke="#5a5a5a" stroke-width="0.75"/>
<line x1="323.53" y1="519.06" x2="325.53" y2="519.06" stroke="#5a5a5a" stroke-width="0.75"/>
<text class="b" transform="translate(324.53,516.46) scale(0.9,1)" font-size="4.8" text-anchor="middle" font-weight="bold">a</text>
<rect x="327.41" y="520.14" width="4.00" height="20.56" fill="#5B9BD5"/>
<line x1="329.41" y1="516.27" x2="329.41" y2="524.00" stroke="#5a5a5a" stroke-width="0.75"/>
<line x1="328.41" y1="516.27" x2="330.41" y2="516.27" stroke="#5a5a5a" stroke-width="0.75"/>
<text class="b" transform="translate(329.41,513.67) scale(0.9,1)" font-size="4.8" text-anchor="middle" font-weight="bold">a</text>
<text class="b" transform="translate(351.35,547.30)" font-size="4.3" text-anchor="middle" font-weight="bold">Ammonium</text>
<rect x="339.58" y="539.93" width="4.00" height="0.77" fill="#4472C4"/>
<text class="b" transform="translate(341.59,537.53) scale(0.9,1)" font-size="4.8" text-anchor="middle" font-weight="bold">b</text>
<rect x="344.47" y="540.39" width="4.00" height="0.31" fill="#ED7D31"/>
<text class="b" transform="translate(346.47,537.99) scale(0.9,1)" font-size="4.8" text-anchor="middle" font-weight="bold">b</text>
<rect x="349.35" y="495.09" width="4.00" height="45.61" fill="#A5A5A5"/>
<line x1="351.35" y1="488.91" x2="351.35" y2="501.28" stroke="#5a5a5a" stroke-width="0.75"/>
<line x1="350.35" y1="488.91" x2="352.35" y2="488.91" stroke="#5a5a5a" stroke-width="0.75"/>
<text class="b" transform="translate(351.35,486.31) scale(0.9,1)" font-size="4.8" text-anchor="middle" font-weight="bold">a</text>
<rect x="354.23" y="491.23" width="4.00" height="49.47" fill="#FFC000"/>
<line x1="356.23" y1="479.63" x2="356.23" y2="502.82" stroke="#5a5a5a" stroke-width="0.75"/>
<line x1="355.23" y1="479.63" x2="357.23" y2="479.63" stroke="#5a5a5a" stroke-width="0.75"/>
<text class="b" transform="translate(356.23,477.03) scale(0.9,1)" font-size="4.8" text-anchor="middle" font-weight="bold">a</text>
<rect x="359.11" y="504.37" width="4.00" height="36.33" fill="#5B9BD5"/>
<line x1="361.11" y1="495.87" x2="361.11" y2="512.87" stroke="#5a5a5a" stroke-width="0.75"/>
<line x1="360.11" y1="495.87" x2="362.11" y2="495.87" stroke="#5a5a5a" stroke-width="0.75"/>
<text class="b" transform="translate(361.11,493.27) scale(0.9,1)" font-size="4.8" text-anchor="middle" font-weight="bold">a</text>
</svg>
</body></html>
